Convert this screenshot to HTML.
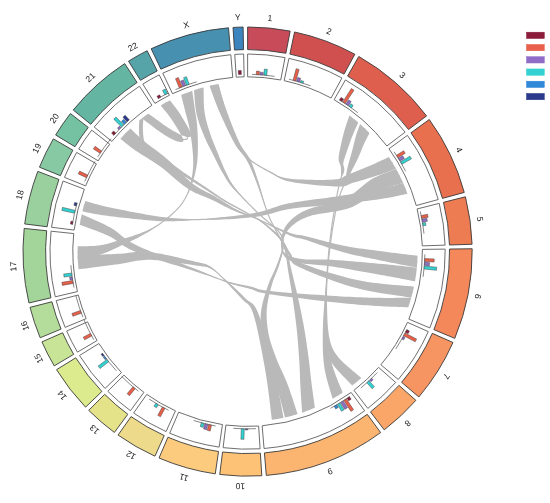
<!DOCTYPE html><html><head><meta charset="utf-8"><style>html,body{margin:0;padding:0;background:#fff;}svg{display:block}</style></head><body>
<svg width="550" height="503" viewBox="0 0 550 503">
<rect width="550" height="503" fill="#fff"/>
<g stroke="#3a3a3a" stroke-width="0.9" stroke-linejoin="round">
<path d="M247.62,27A224.6,224.6 0 0 1 290.17,31.07L285.88,53.26A202,202 0 0 0 247.62,49.6Z" fill="#C84B5A"/>
<path d="M294.58,31.97A224.6,224.6 0 0 1 354.86,54.26L344.06,74.12A202,202 0 0 0 289.86,54.07Z" fill="#D05050"/>
<path d="M358.79,56.46A224.6,224.6 0 0 1 426.56,115.89L408.55,129.54A202,202 0 0 0 347.61,76.09Z" fill="#DE5F4D"/>
<path d="M429.25,119.5A224.6,224.6 0 0 1 464.27,192.43L442.46,198.38A202,202 0 0 0 410.97,132.8Z" fill="#E8704F"/>
<path d="M465.41,196.79A224.6,224.6 0 0 1 472.08,244.25L449.49,244.99A202,202 0 0 0 443.49,202.3Z" fill="#EE7C52"/>
<path d="M472.18,248.76A224.6,224.6 0 0 1 454.76,338.36L433.92,329.63A202,202 0 0 0 449.58,249.04Z" fill="#F4885A"/>
<path d="M452.98,342.51A224.6,224.6 0 0 1 418.83,396.94L401.6,382.32A202,202 0 0 0 432.31,333.36Z" fill="#F69462"/>
<path d="M415.88,400.35A224.6,224.6 0 0 1 384.25,429.85L370.5,411.91A202,202 0 0 0 398.95,385.38Z" fill="#F9A668"/>
<path d="M380.65,432.55A224.6,224.6 0 0 1 266.3,475.42L264.42,452.9A202,202 0 0 0 367.26,414.35Z" fill="#FCB570"/>
<path d="M261.8,475.75A224.6,224.6 0 0 1 219.74,474.47L222.55,452.04A202,202 0 0 0 260.37,453.2Z" fill="#FDC275"/>
<path d="M215.27,473.86A224.6,224.6 0 0 1 159.03,458L167.94,437.23A202,202 0 0 0 218.53,451.5Z" fill="#FCCB7E"/>
<path d="M154.91,456.18A224.6,224.6 0 0 1 118.05,435.07L131.09,416.61A202,202 0 0 0 164.23,435.59Z" fill="#EDDA8A"/>
<path d="M114.4,432.44A224.6,224.6 0 0 1 88.71,410.35L104.7,394.37A202,202 0 0 0 127.8,414.24Z" fill="#E5E38A"/>
<path d="M85.56,407.13A224.6,224.6 0 0 1 56.56,369.7L75.78,357.82A202,202 0 0 0 101.87,391.48Z" fill="#DDEB8F"/>
<path d="M54.23,365.85A224.6,224.6 0 0 1 41.95,341.9L62.64,332.81A202,202 0 0 0 73.69,354.35Z" fill="#C8E597"/>
<path d="M40.18,337.75A224.6,224.6 0 0 1 30.03,307.36L51.92,301.75A202,202 0 0 0 61.05,329.08Z" fill="#B4DC9A"/>
<path d="M28.96,302.98A224.6,224.6 0 0 1 24.2,228.42L46.68,230.75A202,202 0 0 0 50.96,297.81Z" fill="#A3D49A"/>
<path d="M24.71,223.94A224.6,224.6 0 0 1 37.81,171.39L58.92,179.46A202,202 0 0 0 47.14,226.72Z" fill="#99D09E"/>
<path d="M39.46,167.19A224.6,224.6 0 0 1 53.34,138.88L72.88,150.22A202,202 0 0 0 60.41,175.68Z" fill="#86C9A2"/>
<path d="M55.64,135A224.6,224.6 0 0 1 70.43,113.55L88.26,127.44A202,202 0 0 0 74.95,146.73Z" fill="#75C2A2"/>
<path d="M73.24,110.03A224.6,224.6 0 0 1 124.7,63.61L137.07,82.53A202,202 0 0 0 90.78,124.27Z" fill="#64B5A2"/>
<path d="M128.5,61.18A224.6,224.6 0 0 1 147.12,50.73L157.23,70.94A202,202 0 0 0 140.48,80.34Z" fill="#56A3A8"/>
<path d="M151.17,48.75A224.6,224.6 0 0 1 228.51,27.81L230.43,50.33A202,202 0 0 0 160.88,69.16Z" fill="#4890B0"/>
<path d="M233.01,27.47A224.6,224.6 0 0 1 243.11,27.04L243.56,49.64A202,202 0 0 0 234.48,50.03Z" fill="#3C84BE"/>
</g>
<g stroke="#666" stroke-width="0.95" fill="#fff">
<path d="M247.62,54A197.6,197.6 0 0 1 285.05,57.58L280.73,79.97A174.8,174.8 0 0 0 247.62,76.8Z"/>
<path d="M288.94,58.37A197.6,197.6 0 0 1 341.96,77.99L331.07,98.02A174.8,174.8 0 0 0 284.17,80.67Z"/>
<path d="M345.43,79.92A197.6,197.6 0 0 1 405.05,132.2L386.88,145.98A174.8,174.8 0 0 0 334.14,99.73Z"/>
<path d="M407.41,135.38A197.6,197.6 0 0 1 438.22,199.54L416.22,205.55A174.8,174.8 0 0 0 388.97,148.79Z"/>
<path d="M439.23,203.38A197.6,197.6 0 0 1 445.09,245.13L422.31,245.88A174.8,174.8 0 0 0 417.12,208.94Z"/>
<path d="M445.18,249.1A197.6,197.6 0 0 1 429.86,327.93L408.83,319.13A174.8,174.8 0 0 0 422.39,249.39Z"/>
<path d="M428.29,331.58A197.6,197.6 0 0 1 398.25,379.47L380.87,364.72A174.8,174.8 0 0 0 407.44,322.35Z"/>
<path d="M395.65,382.47A197.6,197.6 0 0 1 367.82,408.42L353.95,390.32A174.8,174.8 0 0 0 378.57,367.37Z"/>
<path d="M364.65,410.8A197.6,197.6 0 0 1 264.05,448.51L262.15,425.79A174.8,174.8 0 0 0 351.15,392.43Z"/>
<path d="M260.09,448.8A197.6,197.6 0 0 1 223.09,447.67L225.92,425.05A174.8,174.8 0 0 0 258.65,426.05Z"/>
<path d="M219.16,447.14A197.6,197.6 0 0 1 169.68,433.19L178.67,412.23A174.8,174.8 0 0 0 222.44,424.58Z"/>
<path d="M166.05,431.59A197.6,197.6 0 0 1 133.63,413.02L146.78,394.39A174.8,174.8 0 0 0 175.46,410.82Z"/>
<path d="M130.41,410.7A197.6,197.6 0 0 1 107.81,391.26L123.94,375.15A174.8,174.8 0 0 0 143.93,392.34Z"/>
<path d="M105.04,388.43A197.6,197.6 0 0 1 79.53,355.51L98.92,343.52A174.8,174.8 0 0 0 121.49,372.64Z"/>
<path d="M77.47,352.11A197.6,197.6 0 0 1 66.67,331.04L87.55,321.87A174.8,174.8 0 0 0 97.1,340.51Z"/>
<path d="M65.11,327.39A197.6,197.6 0 0 1 56.19,300.66L78.27,295A174.8,174.8 0 0 0 86.17,318.65Z"/>
<path d="M55.24,296.81A197.6,197.6 0 0 1 51.06,231.2L73.73,233.56A174.8,174.8 0 0 0 77.44,291.59Z"/>
<path d="M51.5,227.26A197.6,197.6 0 0 1 63.03,181.03L84.33,189.17A174.8,174.8 0 0 0 74.13,230.07Z"/>
<path d="M64.49,177.34A197.6,197.6 0 0 1 76.69,152.43L96.41,163.87A174.8,174.8 0 0 0 85.61,185.91Z"/>
<path d="M78.71,149.02A197.6,197.6 0 0 1 91.73,130.15L109.71,144.16A174.8,174.8 0 0 0 98.2,160.85Z"/>
<path d="M94.2,127.05A197.6,197.6 0 0 1 139.47,86.21L151.95,105.29A174.8,174.8 0 0 0 111.9,141.42Z"/>
<path d="M142.81,84.07A197.6,197.6 0 0 1 159.2,74.88L169.4,95.27A174.8,174.8 0 0 0 154.91,103.4Z"/>
<path d="M162.76,73.14A197.6,197.6 0 0 1 230.81,54.71L232.75,77.43A174.8,174.8 0 0 0 172.55,93.73Z"/>
<path d="M234.76,54.42A197.6,197.6 0 0 1 243.65,54.04L244.11,76.83A174.8,174.8 0 0 0 236.24,77.17Z"/>
</g>
<g font-family="Liberation Sans, Arial, sans-serif" font-size="8.6" fill="#1a1a1a" text-anchor="middle">
<text transform="translate(269.98,17.67) rotate(5.47)" dy="3.2">1</text>
<text transform="translate(329.13,31.2) rotate(20.3)" dy="3.2">2</text>
<text transform="translate(402.55,74.92) rotate(41.25)" dy="3.2">3</text>
<text transform="translate(459.44,149.87) rotate(64.35)" dy="3.2">4</text>
<text transform="translate(480.31,218.89) rotate(82)" dy="3.2">5</text>
<text transform="translate(478.28,296.44) rotate(101)" dy="3.2">6</text>
<text transform="translate(446.67,376.48) rotate(122.1)" dy="3.2">7</text>
<text transform="translate(407.87,423.47) rotate(137)" dy="3.2">8</text>
<text transform="translate(330.09,471.65) rotate(159.45)" dy="3.2">9</text>
<text transform="translate(240.42,486.49) rotate(181.75)" dy="3.2">10</text>
<text transform="translate(183.81,477.78) rotate(195.75)" dy="3.2">11</text>
<text transform="translate(130.81,455.52) rotate(209.8)" dy="3.2">12</text>
<text transform="translate(94.36,429.76) rotate(220.7)" dy="3.2">13</text>
<text transform="translate(61.85,395.55) rotate(232.22)" dy="3.2">14</text>
<text transform="translate(38.47,358.8) rotate(242.86)" dy="3.2">15</text>
<text transform="translate(24.7,326.03) rotate(251.53)" dy="3.2">16</text>
<text transform="translate(13.08,266.56) rotate(266.35)" dy="3.2">17</text>
<text transform="translate(19.58,194.75) rotate(284)" dy="3.2">18</text>
<text transform="translate(36.56,148.21) rotate(296.1)" dy="3.2">19</text>
<text transform="translate(54.16,118.16) rotate(304.6)" dy="3.2">20</text>
<text transform="translate(90.2,77.1) rotate(317.95)" dy="3.2">21</text>
<text transform="translate(132.6,46.66) rotate(330.7)" dy="3.2">22</text>
<text transform="translate(186.18,24.77) rotate(344.85)" dy="3.2">X</text>
<text transform="translate(237.62,16.81) rotate(357.56)" dy="3.2">Y</text>
</g>
<g fill="#b9b9b9" stroke="none">
<path d="M82.44,211.34 83.18,211.49 84.06,211.68 85.05,211.91 86.16,212.16 87.39,212.43 88.73,212.72 90.17,213.02 91.71,213.34 93.35,213.65 95.08,213.97 96.9,214.28 98.81,214.58 100.82,214.88 102.96,215.19 105.22,215.51 107.58,215.83 110.04,216.16 112.59,216.49 115.21,216.82 117.9,217.14 120.65,217.46 123.44,217.78 126.27,218.08 129.12,218.37 132.01,218.66 134.96,218.97 137.97,219.3 141.04,219.62 144.16,219.94 147.34,220.25 150.57,220.53 153.85,220.78 157.19,221 160.58,221.17 164.02,221.29 167.52,221.35 171.09,221.35 174.76,221.27 178.49,221.1 182.29,220.88 186.15,220.62 190.04,220.33 193.94,220.01 197.86,219.66 201.76,219.28 205.63,218.88 209.45,218.46 213.21,218.03 216.93,217.69 220.67,217.36 224.43,217 228.19,216.62 231.94,216.21 235.66,215.77 239.33,215.31 242.95,214.82 246.49,214.3 249.94,213.76 253.28,213.19 256.5,212.59 259.52,211.95 262.33,211.25 264.96,210.5 267.46,209.71 269.89,208.9 272.3,208.07 274.72,207.23 277.22,206.4 279.83,205.58 282.61,204.79 285.61,204.04 288.87,203.33 292.43,202.65 296.25,202.01 300.28,201.38 304.48,200.78 308.79,200.19 313.18,199.61 317.59,199.03 321.99,198.47 326.31,197.9 330.51,197.33 334.56,196.76 338.39,196.18 342.09,195.59 345.73,195.01 349.33,194.42 352.87,193.83 356.33,193.25 359.72,192.66 363.03,192.08 366.24,191.51 369.35,190.94 372.35,190.37 375.24,189.81 378,189.26 380.69,188.69 383.32,188.11 385.9,187.5 388.39,186.89 390.78,186.29 393.05,185.7 395.18,185.13 397.16,184.6 398.97,184.11 400.58,183.67 401.97,183.3 403.14,183 403.91,184.77 404.66,186.54 405.39,188.33 406.1,190.12 406.78,191.93 407.45,193.74 406.26,193.98 404.83,194.29 403.19,194.65 401.35,195.05 399.34,195.49 397.16,195.95 394.85,196.44 392.41,196.93 389.87,197.42 387.25,197.9 384.56,198.37 381.83,198.81 379.02,199.23 376.08,199.65 373.02,200.08 369.85,200.5 366.57,200.93 363.21,201.35 359.75,201.78 356.22,202.2 352.62,202.62 348.96,203.04 345.24,203.46 341.48,203.87 337.57,204.28 333.45,204.66 329.17,205.03 324.76,205.4 320.29,205.76 315.8,206.13 311.33,206.5 306.93,206.89 302.65,207.3 298.55,207.74 294.66,208.21 291.03,208.71 287.71,209.27 284.65,209.88 281.82,210.54 279.15,211.23 276.61,211.94 274.14,212.66 271.69,213.38 269.21,214.07 266.66,214.74 263.98,215.36 261.12,215.93 258.04,216.43 254.76,216.88 251.35,217.29 247.84,217.67 244.23,218.02 240.55,218.34 236.81,218.64 233.02,218.9 229.2,219.13 225.37,219.34 221.54,219.53 217.73,219.68 213.96,219.78 210.21,219.75 206.4,219.69 202.55,219.61 198.66,219.5 194.76,219.36 190.87,219.19 186.99,219 183.16,218.77 179.37,218.51 175.65,218.22 172.04,217.95 168.54,217.67 165.12,217.34 161.75,216.95 158.44,216.51 155.17,216.03 151.96,215.52 148.8,214.98 145.69,214.42 142.64,213.86 139.64,213.29 136.7,212.73 133.81,212.18 130.99,211.66 128.19,211.15 125.43,210.62 122.7,210.09 120.01,209.55 117.38,209.01 114.81,208.47 112.32,207.94 109.92,207.41 107.61,206.9 105.4,206.4 103.31,205.92 101.34,205.46 99.48,205.01 97.7,204.56 96,204.1 94.4,203.65 92.89,203.22 91.48,202.8 90.18,202.4 88.98,202.03 87.89,201.69 86.92,201.38 86.06,201.12 85.33,200.9 84.81,202.63 84.29,204.36 83.8,206.1 83.33,207.84 82.87,209.59Z"/>
<path d="M209.65,85.89 210.11,87.09 210.66,88.56 211.29,90.27 212,92.19 212.78,94.28 213.62,96.52 214.51,98.87 215.46,101.3 216.44,103.78 217.46,106.27 218.51,108.74 219.58,111.17 220.71,113.66 221.92,116.32 223.21,119.11 224.56,121.99 225.95,124.92 227.37,127.85 228.79,130.75 230.21,133.58 231.61,136.29 232.96,138.84 234.27,141.2 235.5,143.32 236.64,145.21 237.69,146.91 238.68,148.45 239.62,149.85 240.53,151.13 241.45,152.33 242.39,153.45 243.38,154.54 244.43,155.6 245.57,156.67 246.82,157.77 248.2,158.93 249.73,160.12 251.38,161.3 253.14,162.47 254.96,163.59 256.82,164.65 258.72,165.68 260.59,166.69 262.43,167.68 264.26,168.64 266.07,169.56 267.84,170.45 269.54,171.28 271.12,172.08 272.55,172.86 273.88,173.6 275.16,174.32 276.43,175 277.74,175.64 279.14,176.25 280.66,176.81 282.36,177.33 284.28,177.81 286.47,178.23 288.98,178.61 291.92,178.93 295.34,179.2 299.12,179.43 303.18,179.61 307.41,179.75 311.72,179.85 316.01,179.9 320.19,179.91 324.15,179.88 327.81,179.81 331.05,179.7 333.79,179.55 336.01,179.37 337.81,179.13 339.25,178.85 340.41,178.53 341.36,178.17 342.16,177.77 342.89,177.33 343.62,176.85 344.41,176.34 345.34,175.8 346.48,175.23 347.9,174.64 349.57,173.99 351.39,173.27 353.33,172.5 355.37,171.68 357.48,170.82 359.63,169.95 361.78,169.06 363.92,168.18 366.01,167.31 368.03,166.46 369.95,165.65 371.73,164.89 373.45,164.15 375.17,163.38 376.89,162.61 378.57,161.84 380.21,161.08 381.79,160.35 383.28,159.65 384.67,159 385.94,158.4 387.08,157.86 388.06,157.4 388.87,157.03 390.15,158.97 391.4,160.93 392.63,162.9 393.83,164.89 395,166.9 396.14,168.92 395.29,169.22 394.26,169.59 393.06,170.03 391.71,170.51 390.25,171.04 388.67,171.6 387.01,172.19 385.28,172.8 383.5,173.42 381.69,174.04 379.87,174.65 378.06,175.24 376.18,175.84 374.16,176.48 372.03,177.15 369.82,177.83 367.57,178.52 365.29,179.22 363.03,179.9 360.81,180.57 358.66,181.21 356.61,181.81 354.69,182.37 352.93,182.87 351.44,183.34 350.23,183.8 349.25,184.26 348.41,184.69 347.64,185.09 346.87,185.46 346.02,185.79 345.02,186.07 343.8,186.29 342.29,186.45 340.4,186.53 338.06,186.53 335.18,186.45 331.77,186.29 327.93,186.05 323.76,185.75 319.37,185.39 314.86,184.98 310.33,184.53 305.88,184.03 301.62,183.51 297.64,182.97 294.05,182.4 290.95,181.83 288.32,181.25 286.01,180.63 283.99,179.99 282.19,179.32 280.58,178.62 279.11,177.88 277.73,177.12 276.38,176.31 275.03,175.48 273.62,174.6 272.1,173.69 270.43,172.74 268.63,171.74 266.76,170.69 264.85,169.59 262.9,168.46 260.95,167.29 259.05,166.08 257.23,164.83 255.47,163.57 253.8,162.34 252.23,161.13 250.75,159.91 249.4,158.69 248.17,157.5 247.07,156.37 246.07,155.27 245.15,154.18 244.3,153.07 243.49,151.91 242.71,150.69 241.93,149.38 241.14,147.95 240.32,146.38 239.45,144.64 238.51,142.72 237.5,140.55 236.44,138.14 235.34,135.53 234.22,132.77 233.09,129.88 231.96,126.93 230.84,123.93 229.74,120.95 228.68,118.01 227.67,115.17 226.72,112.45 225.84,109.91 225.01,107.43 224.2,104.91 223.43,102.37 222.69,99.84 221.98,97.37 221.31,94.97 220.69,92.69 220.11,90.55 219.59,88.6 219.12,86.85 218.72,85.35 218.37,84.13 216.91,84.39 215.45,84.67 214,84.95 212.55,85.25 211.09,85.57Z"/>
<path d="M78.53,269.37 80.49,269.11 82.97,268.79 85.89,268.41 89.17,267.98 92.74,267.52 96.49,267.03 100.36,266.53 104.25,266.02 108.09,265.51 111.79,265.03 115.27,264.57 118.44,264.15 121.33,263.73 124.06,263.26 126.66,262.77 129.16,262.27 131.61,261.78 134.04,261.3 136.49,260.87 139,260.49 141.59,260.18 144.32,259.96 147.22,259.84 150.33,259.83 153.73,259.96 157.46,260.23 161.44,260.62 165.59,261.09 169.83,261.63 174.08,262.22 178.28,262.84 182.34,263.46 186.19,264.06 189.74,264.62 192.92,265.12 195.66,265.54 197.95,265.86 199.87,266.11 201.52,266.3 202.89,266.45 204.04,266.59 205.02,266.72 205.89,266.88 206.71,267.07 207.51,267.31 208.37,267.63 209.33,268.04 210.45,268.55 211.65,269.15 212.8,269.81 213.93,270.52 215.04,271.29 216.14,272.1 217.26,272.97 218.39,273.9 219.56,274.87 220.76,275.9 222.03,276.98 223.35,278.11 224.76,279.3 226.28,280.57 227.91,281.96 229.63,283.44 231.42,284.99 233.25,286.6 235.1,288.23 236.95,289.97 238.78,291.71 240.55,293.42 242.24,295.08 243.83,296.66 245.29,298.15 246.62,299.41 247.84,300.41 248.98,301.22 250.04,301.91 251.04,302.58 252.01,303.29 252.97,304.13 253.92,305.17 254.89,306.51 255.9,308.21 256.97,310.35 258.12,313.02 259.34,316.28 260.64,320.08 261.98,324.33 263.37,328.96 264.77,333.87 266.18,338.98 267.58,344.21 268.95,349.48 270.28,354.69 271.55,359.76 272.75,364.61 273.85,369.16 274.9,373.63 275.93,378.26 276.93,382.98 277.89,387.72 278.8,392.4 279.67,396.97 280.49,401.34 281.24,405.44 281.93,409.2 282.54,412.56 283.08,415.44 283.53,417.76 281.59,418.17 279.65,418.55 277.7,418.91 275.76,419.25 273.8,419.57 271.85,419.86 271.55,417.51 271.2,414.6 270.8,411.21 270.36,407.4 269.87,403.25 269.34,398.83 268.76,394.21 268.15,389.47 267.49,384.67 266.8,379.9 266.08,375.21 265.32,370.69 264.51,366.09 263.63,361.19 262.68,356.05 261.7,350.78 260.67,345.46 259.61,340.16 258.54,334.99 257.46,330.02 256.38,325.34 255.32,321.03 254.28,317.19 253.27,313.89 252.31,311.19 251.39,309.02 250.51,307.3 249.64,305.94 248.77,304.88 247.9,304.03 247,303.3 246.07,302.63 245.09,301.92 244.04,301.09 242.92,300.08 241.7,298.79 240.37,297.28 238.92,295.68 237.37,293.99 235.76,292.26 234.09,290.49 232.39,288.69 230.69,286.82 229,284.99 227.35,283.21 225.76,281.52 224.26,279.93 222.86,278.47 221.56,277.11 220.33,275.81 219.17,274.58 218.05,273.4 216.98,272.28 215.93,271.22 214.9,270.21 213.87,269.26 212.84,268.37 211.79,267.54 210.71,266.76 209.6,266.03 208.55,265.4 207.65,264.9 206.84,264.5 206.08,264.17 205.32,263.9 204.5,263.67 203.57,263.44 202.49,263.2 201.19,262.92 199.64,262.58 197.71,262.17 195.41,261.66 192.66,261.01 189.46,260.24 185.88,259.38 182.02,258.46 177.94,257.5 173.72,256.53 169.44,255.58 165.17,254.69 161,253.87 157,253.15 153.25,252.58 149.83,252.16 146.71,251.91 143.8,251.79 141.05,251.79 138.44,251.89 135.92,252.06 133.46,252.29 131.01,252.56 128.55,252.85 126.03,253.14 123.42,253.41 120.68,253.65 117.77,253.84 114.58,253.99 111.09,254.16 107.37,254.34 103.51,254.53 99.59,254.71 95.71,254.9 91.93,255.08 88.35,255.25 85.05,255.4 82.11,255.54 79.62,255.66 77.65,255.75 77.72,258.03 77.82,260.3 77.95,262.57 78.12,264.84 78.31,267.11Z"/>
<path d="M79.74,224.71 81.2,225.27 83.08,225.96 85.31,226.78 87.81,227.69 90.52,228.68 93.36,229.73 96.27,230.83 99.17,231.94 101.99,233.06 104.65,234.16 107.1,235.22 109.25,236.23 111.15,237.21 112.87,238.2 114.45,239.21 115.92,240.22 117.32,241.23 118.67,242.24 119.99,243.25 121.33,244.24 122.71,245.22 124.15,246.18 125.7,247.11 127.38,248.02 129.11,248.88 130.8,249.69 132.49,250.46 134.19,251.21 135.93,251.94 137.74,252.67 139.64,253.41 141.65,254.16 143.8,254.94 146.11,255.76 148.61,256.64 151.33,257.58 154.33,258.59 157.63,259.66 161.17,260.8 164.91,261.97 168.79,263.17 172.75,264.39 176.74,265.62 180.72,266.84 184.61,268.03 188.37,269.2 191.95,270.32 195.29,271.38 198.46,272.41 201.54,273.43 204.56,274.43 207.51,275.35 210.39,276.27 213.19,277.15 215.91,278.01 218.56,278.83 221.12,279.61 223.62,280.35 226.03,281.03 228.37,281.65 230.6,282.23 232.7,282.78 234.69,283.27 236.59,283.71 238.42,284.1 240.18,284.46 241.9,284.79 243.59,285.11 245.26,285.43 246.93,285.76 248.62,286.11 250.33,286.48 251.89,286.87 253.16,287.25 254.22,287.62 255.18,287.99 256.12,288.35 257.14,288.72 258.33,289.08 259.79,289.45 261.59,289.83 263.85,290.21 266.64,290.61 270.07,291.01 274.29,291.44 279.28,291.9 284.91,292.39 291.05,292.88 297.53,293.39 304.23,293.89 311,294.38 317.7,294.85 324.19,295.29 330.32,295.7 335.96,296.07 340.96,296.38 345.42,296.64 349.56,296.87 353.42,297.06 357.03,297.22 360.43,297.36 363.65,297.47 366.73,297.56 369.7,297.63 372.6,297.7 375.47,297.75 378.33,297.8 381.23,297.85 384.19,297.89 387.18,297.91 390.16,297.91 393.11,297.89 395.99,297.86 398.76,297.82 401.39,297.78 403.85,297.73 406.1,297.69 408.11,297.65 409.84,297.62 411.26,297.6 410.79,299.22 410.32,300.83 409.82,302.44 409.31,304.04 408.78,305.64 408.24,307.23 406.84,307.18 405.14,307.13 403.16,307.08 400.94,307.02 398.52,306.95 395.92,306.87 393.19,306.79 390.36,306.69 387.45,306.57 384.51,306.43 381.56,306.28 378.65,306.11 375.79,305.93 372.96,305.74 370.14,305.56 367.28,305.36 364.35,305.15 361.31,304.92 358.14,304.66 354.79,304.37 351.23,304.04 347.43,303.68 343.34,303.26 338.95,302.79 334.02,302.25 328.47,301.63 322.42,300.94 316.03,300.19 309.42,299.42 302.75,298.62 296.15,297.81 289.75,297.01 283.71,296.23 278.16,295.49 273.23,294.8 269.08,294.17 265.7,293.61 262.95,293.09 260.73,292.6 258.94,292.14 257.51,291.7 256.34,291.27 255.34,290.86 254.41,290.45 253.47,290.03 252.42,289.61 251.17,289.17 249.63,288.71 247.94,288.25 246.28,287.83 244.63,287.42 242.99,287.03 241.32,286.62 239.63,286.21 237.89,285.77 236.1,285.29 234.22,284.77 232.26,284.18 230.19,283.53 228.01,282.74 225.74,281.85 223.39,280.89 220.97,279.87 218.48,278.79 215.91,277.66 213.26,276.49 210.54,275.27 207.75,274.03 204.88,272.75 201.91,271.51 198.87,270.27 195.74,269.03 192.45,267.74 188.92,266.38 185.2,264.96 181.36,263.5 177.44,262.01 173.5,260.52 169.59,259.03 165.76,257.56 162.07,256.13 158.57,254.76 155.31,253.46 152.36,252.24 149.68,251.12 147.21,250.07 144.92,249.09 142.8,248.16 140.82,247.26 138.95,246.4 137.16,245.54 135.45,244.69 133.77,243.82 132.11,242.93 130.43,241.99 128.73,241 127.08,239.97 125.55,238.92 124.13,237.85 122.77,236.76 121.45,235.66 120.15,234.55 118.82,233.43 117.45,232.3 116,231.17 114.44,230.04 112.74,228.92 110.88,227.8 108.75,226.64 106.34,225.4 103.71,224.11 100.93,222.8 98.07,221.48 95.2,220.19 92.4,218.94 89.73,217.76 87.26,216.67 85.06,215.71 83.2,214.88 81.76,214.23 81.38,215.96 81.01,217.71 80.67,219.45 80.34,221.2 80.03,222.96Z"/>
<path d="M349.43,115.48 349.2,116.17 348.89,117.04 348.54,118.05 348.14,119.19 347.7,120.43 347.25,121.75 346.78,123.12 346.31,124.53 345.84,125.94 345.4,127.33 344.98,128.69 344.59,129.98 344.24,131.24 343.88,132.53 343.53,133.83 343.19,135.15 342.85,136.47 342.53,137.8 342.21,139.12 341.9,140.44 341.61,141.74 341.32,143.03 341.05,144.29 340.79,145.52 340.54,146.73 340.28,147.93 340.02,149.12 339.77,150.31 339.53,151.47 339.3,152.63 339.1,153.76 338.92,154.88 338.78,155.98 338.67,157.06 338.61,158.11 338.59,159.13 338.64,160.08 338.78,160.91 338.99,161.65 339.25,162.35 339.54,163.03 339.84,163.71 340.14,164.44 340.42,165.25 340.67,166.16 340.86,167.21 340.99,168.43 341.04,169.87 341.05,171.48 341.05,173.21 341.23,175.19 341.24,177.19 340.78,178.94 340.28,180.81 339.75,182.8 339.2,184.93 338.64,187.2 338.08,189.62 337.53,192.22 337,195 336.46,198 335.89,201.23 335.29,204.66 334.67,208.26 334.04,212.01 333.41,215.88 332.78,219.83 332.17,223.85 331.57,227.91 331.01,231.97 330.48,236.01 330,240 329.55,244.02 329.12,248.16 328.72,252.38 328.33,256.67 327.97,260.99 327.62,265.31 327.3,269.62 327,273.89 326.72,278.09 326.59,282.1 326.52,285.97 326.46,289.7 326.42,293.3 326.38,296.8 326.36,300.22 326.36,303.57 326.37,306.85 326.41,310.07 326.46,313.23 326.54,316.36 326.65,319.45 326.78,322.52 326.95,325.57 327.14,328.61 327.36,331.63 327.59,334.61 327.84,337.56 328.11,340.47 328.41,343.35 328.74,346.19 329.1,349 329.5,351.79 329.95,354.54 330.45,357.27 331.01,359.97 331.62,362.65 332.35,365.38 333.21,368.22 334.18,371.11 335.22,374.03 336.31,376.91 337.42,379.72 338.51,382.41 339.56,384.94 340.52,387.26 341.39,389.33 342.11,391.11 342.66,392.54 341.02,393.63 339.36,394.71 337.69,395.77 336,396.81 334.31,397.83 332.6,398.82 332.18,397.31 331.62,395.44 330.95,393.25 330.2,390.79 329.39,388.11 328.54,385.27 327.7,382.29 326.87,379.25 326.09,376.17 325.39,373.1 324.78,370.11 324.3,367.22 323.92,364.4 323.61,361.55 323.35,358.67 323.14,355.76 322.98,352.83 322.86,349.86 322.79,346.86 322.74,343.83 322.73,340.75 322.73,337.65 322.76,334.5 322.81,331.32 322.88,328.11 322.98,324.89 323.11,321.66 323.28,318.4 323.47,315.1 323.69,311.76 323.94,308.37 324.21,304.91 324.51,301.38 324.83,297.78 325.17,294.08 325.53,290.28 325.91,286.35 326.32,282.27 326.72,278.09 327,273.89 327.3,269.62 327.62,265.31 327.97,260.99 328.33,256.67 328.72,252.38 329.12,248.16 329.55,244.02 330,240 330.48,236.01 331.01,231.97 331.57,227.91 332.17,223.85 332.78,219.83 333.41,215.88 334.04,212.01 334.67,208.26 335.29,204.66 335.89,201.23 336.46,198 337,195 337.53,192.22 338.08,189.62 338.64,187.2 339.2,184.93 339.75,182.8 340.28,180.81 340.78,178.94 341.24,177.19 342.07,175.87 342.94,174.72 343.5,173.45 343.92,172.17 344.18,170.99 344.3,169.97 344.31,169.07 344.23,168.3 344.09,167.61 343.92,166.98 343.73,166.38 343.55,165.79 343.4,165.18 343.3,164.53 343.28,163.79 343.35,162.95 343.5,162.03 343.71,161.09 343.95,160.12 344.23,159.13 344.54,158.12 344.87,157.09 345.23,156.04 345.6,154.98 345.98,153.9 346.36,152.8 346.75,151.7 347.12,150.59 347.5,149.45 347.9,148.29 348.3,147.11 348.72,145.9 349.14,144.68 349.58,143.45 350.02,142.22 350.47,140.98 350.92,139.75 351.38,138.54 351.84,137.33 352.3,136.15 352.79,134.94 353.32,133.68 353.87,132.37 354.44,131.05 355.02,129.73 355.59,128.44 356.15,127.2 356.67,126.03 357.15,124.96 357.58,124 357.94,123.18 358.23,122.52 356.8,121.31 355.35,120.11 353.89,118.93 352.42,117.76 350.93,116.61Z"/>
<path d="M360.02,124.08 359.82,124.65 359.57,125.35 359.27,126.17 358.94,127.08 358.57,128.08 358.19,129.15 357.79,130.27 357.39,131.43 356.99,132.62 356.59,133.82 356.21,135.02 355.85,136.2 355.51,137.4 355.17,138.65 354.83,139.95 354.49,141.29 354.16,142.65 353.82,144.03 353.49,145.41 353.15,146.79 352.82,148.16 352.49,149.51 352.15,150.82 351.82,152.09 351.48,153.32 351.14,154.53 350.8,155.73 350.45,156.91 350.11,158.08 349.77,159.24 349.43,160.39 349.1,161.53 348.78,162.66 348.46,163.8 348.16,164.93 347.88,166.06 347.62,167.14 347.39,168.13 347.19,169.07 347.01,169.97 346.83,170.87 346.66,171.79 346.48,172.76 346.29,173.81 346.08,174.97 345.86,176.27 345.62,177.74 345.39,179.44 345.27,181.41 344.78,183.12 344.08,184.75 343.33,186.44 342.55,188.23 341.75,190.12 340.93,192.15 340.11,194.33 339.3,196.69 338.5,199.24 337.73,202 337,205 336.28,208.29 335.55,211.89 334.81,215.74 334.07,219.81 333.34,224.06 332.62,228.44 331.93,232.9 331.26,237.41 330.62,241.91 330.03,246.38 329.49,250.75 329,255 328.56,259.21 328.16,263.51 327.8,267.85 327.48,272.22 327.19,276.59 327,280.88 326.94,285.03 326.92,289.1 326.91,293.07 326.93,296.91 326.96,300.6 327.01,304.12 327.07,307.49 327.14,310.76 327.22,313.93 327.32,317 327.44,319.96 327.59,322.83 327.77,325.6 328,328.26 328.27,330.83 328.59,333.29 328.96,335.65 329.4,337.92 329.86,340.03 330.33,341.95 330.82,343.72 331.34,345.36 331.91,346.89 332.53,348.36 333.23,349.78 334.01,351.18 334.89,352.59 335.88,354.04 337,355.56 338.26,357.17 339.75,358.91 341.55,360.79 343.57,362.74 345.75,364.75 348.04,366.77 350.35,368.76 352.64,370.68 354.83,372.5 356.87,374.17 358.67,375.66 360.19,376.93 361.35,377.93 359.87,379.25 358.38,380.55 356.87,381.83 355.35,383.09 353.81,384.33 352.26,385.56 351.22,384.45 349.86,383.05 348.24,381.41 346.42,379.56 344.45,377.55 342.4,375.43 340.33,373.24 338.29,371.02 336.34,368.81 334.54,366.66 332.96,364.62 331.65,362.72 330.56,360.97 329.59,359.32 328.74,357.75 327.99,356.23 327.34,354.72 326.77,353.19 326.28,351.62 325.85,349.97 325.47,348.21 325.13,346.32 324.82,344.26 324.53,342 324.29,339.58 324.11,337.05 324,334.41 323.94,331.67 323.94,328.82 323.98,325.86 324.07,322.79 324.19,319.62 324.35,316.33 324.53,312.94 324.74,309.45 324.96,305.84 325.2,302.08 325.47,298.13 325.78,294.02 326.11,289.78 326.48,285.42 326.87,280.99 327.19,276.59 327.48,272.22 327.8,267.85 328.16,263.51 328.56,259.21 329,255 329.49,250.75 330.03,246.38 330.62,241.91 331.26,237.41 331.93,232.9 332.62,228.44 333.34,224.06 334.07,219.81 334.81,215.74 335.55,211.89 336.28,208.29 337,205 337.73,202 338.5,199.24 339.3,196.69 340.11,194.33 340.93,192.15 341.75,190.12 342.55,188.23 343.33,186.44 344.08,184.75 344.78,183.12 345.57,181.7 346.59,180.59 347.36,179.39 347.99,178.29 348.53,177.3 348.99,176.39 349.41,175.55 349.78,174.77 350.14,174.02 350.48,173.28 350.83,172.53 351.2,171.76 351.6,170.93 352.05,170.02 352.52,169.07 353,168.12 353.5,167.16 354,166.19 354.5,165.22 355.01,164.24 355.52,163.24 356.04,162.23 356.55,161.21 357.06,160.17 357.56,159.11 358.06,158.03 358.56,156.92 359.06,155.77 359.56,154.58 360.07,153.38 360.57,152.15 361.07,150.93 361.56,149.7 362.06,148.49 362.55,147.3 363.04,146.14 363.52,145.02 364,143.95 364.49,142.9 365,141.83 365.52,140.75 366.06,139.69 366.59,138.65 367.11,137.64 367.6,136.68 368.07,135.78 368.5,134.96 368.89,134.23 369.21,133.6 369.47,133.08 367.95,131.53 366.4,130 364.84,128.49 363.25,127 361.65,125.53Z"/>
<path d="M120.38,138.84 121.09,139.4 121.93,140.08 122.9,140.87 123.99,141.75 125.19,142.71 126.48,143.75 127.86,144.84 129.31,145.97 130.83,147.13 132.41,148.3 134.03,149.49 135.69,150.66 137.43,151.83 139.26,153.02 141.19,154.23 143.2,155.47 145.28,156.74 147.4,158.05 149.57,159.39 151.77,160.76 153.98,162.18 156.2,163.64 158.4,165.14 160.58,166.7 162.77,168.35 164.99,170.13 167.25,172 169.53,173.95 171.83,175.93 174.13,177.93 176.43,179.91 178.73,181.84 181,183.71 183.24,185.47 185.46,187.1 187.62,188.57 189.75,189.89 191.86,191.07 193.95,192.15 196.01,193.14 198.06,194.05 200.1,194.91 202.11,195.73 204.12,196.53 206.11,197.33 208.09,198.15 210.06,199 212.02,199.91 213.97,200.85 215.9,201.82 217.81,202.79 219.71,203.77 221.59,204.74 223.47,205.71 225.33,206.67 227.2,207.61 229.06,208.53 230.93,209.42 232.8,210.28 234.67,211.09 236.52,211.85 238.3,212.53 240.05,213.16 241.77,213.75 243.49,214.32 245.23,214.88 247.01,215.45 248.85,216.05 250.76,216.69 252.78,217.39 254.91,218.16 257.18,219.02 259.66,219.93 262.33,221 265.12,222.22 268.05,223.51 271.05,224.84 274.07,226.19 277.08,227.52 280.01,228.81 282.82,230.02 285.47,231.13 287.89,232.1 290.05,232.91 291.88,233.54 293.38,234 294.62,234.33 295.67,234.55 296.6,234.7 297.48,234.8 298.38,234.89 299.36,234.99 300.51,235.14 301.88,235.36 303.55,235.68 305.58,236.14 307.97,236.73 310.63,237.42 313.52,238.18 316.62,239.01 319.87,239.89 323.24,240.79 326.68,241.69 330.17,242.59 333.66,243.46 337.11,244.29 340.48,245.05 343.74,245.73 346.93,246.34 350.14,246.91 353.36,247.44 356.58,247.94 359.81,248.42 363.03,248.86 366.24,249.3 369.44,249.71 372.62,250.12 375.77,250.53 378.9,250.94 381.99,251.35 385.17,251.77 388.49,252.2 391.91,252.64 395.36,253.07 398.8,253.49 402.16,253.9 405.39,254.29 408.43,254.66 411.22,254.99 413.71,255.29 415.84,255.54 417.55,255.75 417.49,257.73 417.41,259.71 417.3,261.68 417.17,263.66 417.02,265.63 416.85,267.6 415.14,267.27 413.03,266.86 410.55,266.38 407.77,265.85 404.74,265.26 401.53,264.64 398.18,263.99 394.75,263.32 391.31,262.64 387.91,261.96 384.6,261.29 381.44,260.64 378.36,260.01 375.25,259.37 372.11,258.74 368.94,258.1 365.76,257.45 362.56,256.79 359.35,256.11 356.14,255.41 352.93,254.67 349.72,253.91 346.53,253.11 343.35,252.26 340.11,251.34 336.75,250.34 333.32,249.26 329.84,248.13 326.37,246.97 322.94,245.81 319.58,244.66 316.35,243.55 313.27,242.49 310.38,241.5 307.73,240.62 305.36,239.86 303.33,239.25 301.68,238.8 300.31,238.48 299.17,238.26 298.19,238.08 297.29,237.93 296.42,237.77 295.49,237.55 294.44,237.25 293.21,236.83 291.72,236.25 289.9,235.49 287.75,234.51 285.33,233.35 282.7,232.04 279.9,230.61 276.98,229.09 273.99,227.52 270.98,225.93 268,224.36 265.09,222.84 262.3,221.4 259.73,220.04 257.43,218.78 255.3,217.75 253.31,216.84 251.42,216 249.63,215.24 247.91,214.52 246.24,213.83 244.61,213.15 243,212.47 241.39,211.77 239.76,211.03 238.09,210.22 236.36,209.34 234.61,208.39 232.87,207.41 231.13,206.39 229.39,205.34 227.65,204.27 225.91,203.18 224.17,202.07 222.41,200.96 220.64,199.85 218.86,198.75 217.07,197.65 215.25,196.56 213.42,195.52 211.57,194.53 209.72,193.58 207.86,192.65 205.99,191.71 204.1,190.75 202.21,189.76 200.29,188.7 198.37,187.57 196.42,186.35 194.46,185.01 192.48,183.53 190.48,181.89 188.43,180.09 186.36,178.15 184.27,176.1 182.16,173.97 180.05,171.8 177.93,169.61 175.82,167.43 173.72,165.3 171.64,163.23 169.59,161.28 167.57,159.45 165.56,157.72 163.52,156.05 161.47,154.42 159.41,152.84 157.38,151.3 155.36,149.8 153.39,148.34 151.46,146.91 149.6,145.52 147.81,144.16 146.1,142.83 144.5,141.53 142.96,140.23 141.46,138.92 140,137.62 138.6,136.34 137.26,135.09 135.99,133.89 134.8,132.75 133.7,131.69 132.69,130.72 131.8,129.85 131.02,129.11 130.36,128.49 128.64,130.16 126.94,131.85 125.26,133.56 123.61,135.3 121.98,137.06Z"/>
<path d="M209.65,85.89 210.09,87.09 210.62,88.57 211.23,90.29 211.91,92.21 212.65,94.31 213.46,96.56 214.32,98.91 215.22,101.35 216.17,103.83 217.15,106.33 218.16,108.82 219.2,111.25 220.28,113.75 221.46,116.41 222.71,119.2 224.02,122.07 225.37,124.99 226.74,127.92 228.12,130.82 229.5,133.65 230.85,136.37 232.16,138.95 233.42,141.34 234.61,143.51 235.74,145.44 236.85,147.16 237.93,148.7 238.99,150.1 240.03,151.39 241.05,152.61 242.04,153.79 243.02,154.97 243.98,156.19 244.92,157.47 245.84,158.85 246.75,160.38 247.63,161.98 248.46,163.58 249.26,165.2 250.03,166.84 250.79,168.51 251.53,170.22 252.27,171.99 253.03,173.82 253.79,175.73 254.59,177.73 255.42,179.82 256.29,182.02 257.2,184.38 258.15,186.93 259.12,189.62 260.11,192.44 261.12,195.32 262.15,198.25 263.18,201.17 264.21,204.06 265.24,206.87 266.26,209.57 267.28,212.12 268.2,214.5 269.12,216.73 270.07,218.87 271.03,220.93 272,222.91 272.96,224.81 273.93,226.64 274.95,228.38 275.93,230.06 276.89,231.68 277.8,233.25 278.67,234.77 279.48,236.25 280.23,237.63 280.95,238.88 281.61,240.02 282.25,241.08 282.85,242.09 283.42,243.06 283.96,244.02 284.49,245.01 285,246.04 285.5,247.14 285.99,248.33 286.49,249.64 286.95,251.03 287.38,252.45 287.78,253.89 288.16,255.38 288.52,256.91 288.88,258.49 289.23,260.12 289.59,261.82 289.97,263.59 290.37,265.43 290.8,267.35 291.27,269.36 291.78,271.48 292.32,273.72 292.89,276.06 293.49,278.49 294.09,280.99 294.71,283.54 295.33,286.12 295.95,288.72 296.56,291.32 297.16,293.9 297.74,296.45 298.3,298.94 298.83,301.41 299.36,303.87 299.89,306.34 300.41,308.8 300.92,311.27 301.42,313.74 301.91,316.2 302.39,318.67 302.87,321.13 303.33,323.6 303.78,326.06 304.21,328.53 304.64,331.01 305.06,333.52 305.46,336.04 305.86,338.57 306.24,341.11 306.61,343.63 306.98,346.14 307.33,348.62 307.67,351.07 308,353.47 308.32,355.82 308.63,358.12 308.92,360.34 309.18,362.51 309.43,364.62 309.67,366.69 309.89,368.72 310.11,370.73 310.33,372.73 310.54,374.72 310.76,376.7 310.98,378.7 311.22,380.72 311.47,382.77 311.74,384.92 312.04,387.21 312.35,389.58 312.68,392 313.01,394.42 313.33,396.8 313.65,399.09 313.95,401.25 314.22,403.24 314.47,405.02 314.68,406.53 314.84,407.74 312.75,408.62 310.64,409.48 308.52,410.31 306.39,411.11 304.25,411.88 302.1,412.63 302.02,411.39 301.92,409.83 301.79,408.01 301.66,405.97 301.51,403.75 301.35,401.4 301.19,398.96 301.02,396.47 300.86,393.99 300.71,391.55 300.57,389.21 300.45,387 300.34,384.9 300.24,382.83 300.15,380.77 300.07,378.73 300,376.69 299.92,374.65 299.84,372.58 299.76,370.5 299.66,368.37 299.56,366.2 299.44,363.98 299.3,361.7 299.15,359.34 298.99,356.93 298.83,354.46 298.66,351.95 298.48,349.4 298.29,346.83 298.09,344.24 297.88,341.64 297.66,339.04 297.43,336.45 297.18,333.87 296.93,331.33 296.66,328.79 296.38,326.26 296.09,323.73 295.79,321.2 295.48,318.67 295.16,316.14 294.83,313.61 294.49,311.08 294.14,308.55 293.79,306.01 293.43,303.48 293.06,300.95 292.68,298.39 292.28,295.77 291.87,293.12 291.43,290.45 291,287.78 290.56,285.13 290.12,282.51 289.68,279.95 289.26,277.46 288.85,275.05 288.47,272.75 288.11,270.58 287.78,268.51 287.48,266.54 287.21,264.65 286.95,262.84 286.71,261.09 286.47,259.41 286.23,257.79 285.97,256.22 285.7,254.69 285.4,253.21 285.07,251.75 284.7,250.32 284.31,248.98 283.9,247.75 283.48,246.62 283.05,245.56 282.6,244.55 282.12,243.55 281.63,242.55 281.11,241.52 280.56,240.43 279.98,239.25 279.37,237.96 278.72,236.54 278.02,235.02 277.27,233.45 276.48,231.84 275.65,230.17 274.79,228.44 273.92,226.65 272.96,224.81 272,222.91 271.03,220.93 270.07,218.87 269.12,216.73 268.2,214.5 267.29,212.12 266.45,209.53 265.61,206.79 264.77,203.94 263.93,201.02 263.09,198.05 262.26,195.09 261.44,192.17 260.64,189.32 259.85,186.58 259.07,184 258.32,181.61 257.59,179.38 256.9,177.26 256.24,175.24 255.6,173.31 254.98,171.45 254.35,169.65 253.72,167.91 253.09,166.22 252.43,164.56 251.74,162.92 251.02,161.29 250.26,159.67 249.46,158.12 248.64,156.72 247.79,155.42 246.93,154.18 246.05,152.98 245.15,151.78 244.23,150.54 243.3,149.23 242.35,147.81 241.38,146.25 240.4,144.51 239.4,142.55 238.37,140.35 237.28,137.92 236.15,135.3 234.99,132.54 233.81,129.67 232.63,126.73 231.46,123.76 230.31,120.8 229.2,117.89 228.14,115.06 227.14,112.37 226.22,109.84 225.36,107.37 224.52,104.85 223.7,102.32 222.92,99.8 222.18,97.33 221.47,94.94 220.82,92.67 220.21,90.54 219.66,88.59 219.16,86.85 218.73,85.35 218.37,84.13 216.91,84.39 215.45,84.67 214,84.95 212.55,85.25 211.09,85.57Z"/>
<path d="M396.14,168.92 394.98,169.38 393.53,169.92 391.85,170.53 389.95,171.21 387.89,171.96 385.7,172.78 383.41,173.66 381.07,174.62 378.71,175.64 376.36,176.72 374.07,177.86 371.88,179.07 369.76,180.4 367.67,181.89 365.59,183.5 363.5,185.21 361.4,186.99 359.26,188.8 357.07,190.62 354.82,192.41 352.49,194.14 350.06,195.78 347.52,197.3 344.86,198.67 341.99,199.89 338.88,200.99 335.59,202 332.17,202.93 328.66,203.81 325.13,204.64 321.63,205.46 318.2,206.28 314.92,207.12 311.81,208 308.95,208.93 306.39,209.94 304.08,211.01 301.93,212.09 299.95,213.2 298.11,214.33 296.4,215.48 294.82,216.64 293.35,217.83 291.98,219.04 290.7,220.27 289.5,221.51 288.36,222.78 287.28,224.07 286.28,225.37 285.39,226.69 284.6,228.06 283.91,229.46 283.31,230.89 282.79,232.32 282.35,233.75 281.98,235.17 281.68,236.56 281.45,237.91 281.26,239.21 281.13,240.44 281.04,241.63 281.02,242.81 281.05,243.96 281.15,245.09 281.32,246.2 281.55,247.27 281.86,248.31 282.25,249.3 282.72,250.25 283.28,251.15 283.93,252 284.66,252.8 285.48,253.53 286.35,254.21 287.3,254.83 288.31,255.4 289.42,255.93 290.61,256.42 291.9,256.88 293.29,257.3 294.8,257.69 296.43,258.06 298.19,258.41 300.08,258.74 302.09,259.03 304.18,259.24 306.38,259.4 308.65,259.46 311.02,259.45 313.5,259.43 316.11,259.4 318.85,259.38 321.73,259.39 324.76,259.44 327.94,259.54 331.28,259.71 334.89,259.95 338.83,260.23 343.05,260.55 347.46,260.91 352.01,261.29 356.64,261.69 361.29,262.11 365.87,262.52 370.35,262.93 374.64,263.32 378.69,263.69 382.43,264.04 385.99,264.37 389.53,264.72 393.02,265.07 396.42,265.41 399.7,265.76 402.83,266.09 405.79,266.41 408.54,266.7 411.05,266.98 413.29,267.22 415.24,267.43 416.85,267.6 416.61,269.91 416.34,272.22 416.05,274.52 415.72,276.83 415.36,279.12 414.97,281.41 413.37,281.11 411.46,280.73 409.24,280.3 406.76,279.81 404.04,279.28 401.12,278.71 398.02,278.11 394.77,277.49 391.41,276.86 387.97,276.21 384.47,275.57 380.95,274.93 377.25,274.27 373.25,273.55 369,272.79 364.58,272.01 360.05,271.21 355.46,270.4 350.88,269.61 346.38,268.84 342.02,268.11 337.85,267.43 333.96,266.81 330.39,266.27 327.08,265.82 323.94,265.45 320.95,265.15 318.1,264.9 315.39,264.69 312.81,264.49 310.35,264.31 308.02,264.12 305.81,263.94 303.72,263.78 301.73,263.55 299.83,263.25 298.03,262.91 296.36,262.55 294.81,262.17 293.38,261.77 292.06,261.34 290.84,260.88 289.71,260.39 288.67,259.85 287.71,259.27 286.82,258.64 286,257.96 285.24,257.22 284.56,256.42 283.96,255.56 283.46,254.65 283.04,253.7 282.71,252.69 282.45,251.65 282.27,250.57 282.16,249.46 282.12,248.33 282.14,247.16 282.23,245.98 282.37,244.79 282.57,243.55 282.82,242.24 283.13,240.88 283.5,239.49 283.95,238.06 284.46,236.62 285.06,235.17 285.74,233.74 286.51,232.32 287.38,230.95 288.35,229.62 289.42,228.38 290.57,227.22 291.77,226.09 293.04,224.97 294.39,223.88 295.83,222.82 297.37,221.78 299.03,220.76 300.82,219.78 302.74,218.82 304.82,217.89 307.06,217 309.47,216.13 312.14,215.34 315.12,214.64 318.35,214.02 321.77,213.45 325.33,212.91 328.98,212.38 332.65,211.83 336.3,211.25 339.87,210.59 343.3,209.86 346.53,209.02 349.52,208.04 352.3,206.91 354.96,205.62 357.5,204.21 359.94,202.71 362.31,201.14 364.6,199.55 366.85,197.96 369.06,196.39 371.25,194.89 373.44,193.48 375.63,192.2 377.84,191.07 380.14,190.05 382.53,189.11 384.97,188.23 387.44,187.42 389.88,186.66 392.26,185.97 394.55,185.33 396.7,184.76 398.67,184.24 400.43,183.77 401.93,183.36 403.14,183 402.07,180.61 400.95,178.23 399.8,175.88 398.62,173.54 397.4,171.22Z"/>
<path d="M193.94,90.29 194.05,91.44 194.17,92.89 194.3,94.59 194.45,96.5 194.61,98.58 194.8,100.77 195.01,103.04 195.25,105.34 195.52,107.63 195.83,109.85 196.17,111.97 196.56,113.94 197,115.82 197.48,117.67 198.01,119.51 198.57,121.33 199.16,123.13 199.78,124.93 200.42,126.71 201.09,128.48 201.78,130.24 202.47,131.99 203.18,133.74 203.89,135.48 204.63,137.23 205.4,138.97 206.2,140.72 207.02,142.45 207.86,144.18 208.71,145.9 209.57,147.6 210.43,149.28 211.27,150.94 212.11,152.57 212.92,154.16 213.71,155.73 214.46,157.25 215.2,158.73 215.91,160.19 216.61,161.61 217.3,163.01 217.99,164.4 218.69,165.76 219.39,167.12 220.11,168.46 220.84,169.81 221.6,171.16 222.39,172.51 223.17,173.83 223.9,175.1 224.6,176.33 225.29,177.54 226,178.74 226.75,179.95 227.54,181.18 228.42,182.46 229.39,183.79 230.47,185.2 231.7,186.69 233.08,188.29 234.64,190.02 236.38,191.87 238.28,193.83 240.29,195.86 242.4,197.95 244.58,200.08 246.8,202.22 249.04,204.35 251.27,206.44 253.35,208.51 255.37,210.51 257.3,212.4 259.23,214.22 261.23,216.01 263.27,217.77 265.34,219.5 267.4,221.19 269.41,222.85 271.36,224.47 273.21,226.06 274.97,227.6 276.62,229.08 278.08,230.53 279.32,231.94 280.35,233.27 281.21,234.51 281.9,235.67 282.46,236.78 282.88,237.85 283.2,238.9 283.42,239.95 283.56,241.02 283.64,242.12 283.68,243.27 283.69,244.49 283.69,245.8 283.64,247.19 283.5,248.64 283.28,250.14 282.98,251.67 282.63,253.24 282.23,254.84 281.78,256.46 281.31,258.09 280.82,259.73 280.31,261.37 279.81,263.01 279.31,264.62 278.8,266.22 278.24,267.81 277.64,269.39 277.01,270.97 276.36,272.56 275.7,274.15 275.04,275.78 274.38,277.42 273.74,279.11 273.12,280.83 272.54,282.6 271.99,284.43 271.46,286.32 270.92,288.27 270.38,290.27 269.85,292.32 269.32,294.4 268.83,296.5 268.36,298.62 267.94,300.76 267.56,302.89 267.24,305.01 266.98,307.12 266.8,309.2 266.69,311.26 266.63,313.33 266.62,315.39 266.66,317.45 266.75,319.52 266.88,321.58 267.06,323.65 267.29,325.71 267.56,327.78 267.86,329.84 268.21,331.91 268.59,333.97 269.02,336.03 269.51,338.1 270.05,340.16 270.64,342.23 271.27,344.29 271.93,346.35 272.63,348.42 273.36,350.48 274.1,352.54 274.86,354.61 275.63,356.67 276.41,358.74 277.21,360.78 278.05,362.79 278.92,364.79 279.82,366.77 280.74,368.76 281.68,370.75 282.62,372.76 283.57,374.81 284.51,376.89 285.45,379.03 286.36,381.22 287.26,383.49 288.17,385.93 289.13,388.61 290.12,391.45 291.12,394.39 292.12,397.37 293.1,400.34 294.04,403.21 294.93,405.94 295.74,408.45 296.47,410.69 297.09,412.59 297.59,414.08 295.5,414.71 293.41,415.31 291.31,415.88 289.21,416.43 287.09,416.95 284.97,417.44 284.58,415.92 284.08,413.98 283.51,411.71 282.86,409.15 282.15,406.37 281.4,403.45 280.62,400.43 279.82,397.4 279.01,394.4 278.21,391.51 277.43,388.79 276.69,386.3 275.95,384 275.18,381.76 274.39,379.59 273.59,377.46 272.79,375.38 271.98,373.33 271.19,371.3 270.4,369.28 269.64,367.26 268.91,365.23 268.21,363.18 267.54,361.09 266.91,358.99 266.27,356.89 265.65,354.79 265.05,352.69 264.46,350.59 263.9,348.49 263.37,346.39 262.88,344.29 262.43,342.19 262.02,340.09 261.67,337.99 261.37,335.89 261.12,333.79 260.91,331.69 260.74,329.59 260.6,327.49 260.51,325.39 260.46,323.29 260.45,321.19 260.5,319.09 260.59,316.99 260.73,314.89 260.92,312.79 261.17,310.7 261.49,308.58 261.88,306.44 262.34,304.28 262.85,302.11 263.42,299.94 264.02,297.78 264.66,295.64 265.32,293.52 265.99,291.44 266.66,289.4 267.33,287.42 267.99,285.49 268.66,283.63 269.36,281.83 270.1,280.07 270.86,278.36 271.63,276.68 272.41,275.03 273.18,273.4 273.94,271.79 274.67,270.18 275.38,268.57 276.05,266.95 276.67,265.33 277.28,263.68 277.89,262.02 278.51,260.35 279.11,258.68 279.7,257.02 280.25,255.37 280.76,253.74 281.21,252.14 281.61,250.58 281.93,249.06 282.16,247.59 282.3,246.17 282.39,244.84 282.46,243.59 282.49,242.42 282.48,241.3 282.4,240.22 282.25,239.15 282,238.09 281.65,237 281.18,235.87 280.57,234.68 279.8,233.41 278.88,232.05 277.75,230.62 276.42,229.14 274.91,227.61 273.21,226.06 271.36,224.47 269.41,222.85 267.4,221.19 265.34,219.5 263.27,217.77 261.23,216.01 259.23,214.22 257.3,212.4 255.37,210.51 253.35,208.51 251.27,206.44 249.26,204.28 247.25,202.08 245.25,199.88 243.29,197.69 241.39,195.53 239.58,193.44 237.88,191.42 236.33,189.51 234.93,187.74 233.7,186.09 232.62,184.55 231.66,183.11 230.81,181.74 230.05,180.43 229.35,179.17 228.71,177.93 228.1,176.7 227.51,175.46 226.91,174.2 226.29,172.9 225.62,171.54 224.95,170.15 224.3,168.77 223.68,167.39 223.07,166.01 222.48,164.62 221.9,163.22 221.32,161.81 220.74,160.37 220.16,158.91 219.56,157.43 218.95,155.9 218.31,154.34 217.65,152.74 216.97,151.11 216.27,149.44 215.56,147.74 214.84,146.02 214.12,144.28 213.41,142.52 212.71,140.75 212.02,138.97 211.36,137.18 210.73,135.39 210.14,133.61 209.56,131.83 208.99,130.04 208.43,128.24 207.88,126.44 207.35,124.63 206.85,122.81 206.36,120.97 205.91,119.13 205.49,117.26 205.11,115.38 204.77,113.49 204.47,111.57 204.23,109.56 204.04,107.39 203.89,105.11 203.79,102.78 203.72,100.43 203.68,98.11 203.66,95.86 203.65,93.74 203.64,91.79 203.64,90.05 203.63,88.57 203.6,87.39 201.98,87.84 200.36,88.29 198.75,88.77 197.14,89.26 195.54,89.77Z"/>
<path d="M160.78,105.54 161.21,106.08 161.76,106.75 162.41,107.54 163.14,108.42 163.93,109.39 164.77,110.41 165.63,111.47 166.5,112.54 167.35,113.62 168.17,114.67 168.95,115.69 169.66,116.64 170.32,117.57 170.98,118.5 171.62,119.44 172.25,120.38 172.87,121.32 173.48,122.25 174.08,123.18 174.66,124.09 175.23,125 175.78,125.88 176.32,126.75 176.84,127.59 177.35,128.42 177.86,129.25 178.36,130.06 178.85,130.87 179.33,131.67 179.79,132.44 180.23,133.2 180.64,133.93 181.03,134.64 181.38,135.31 181.7,135.95 181.98,136.55 182.24,137.12 182.49,137.67 182.72,138.2 182.94,138.71 183.13,139.18 183.28,139.63 183.39,140.04 183.44,140.42 183.45,140.76 183.39,141.06 183.26,141.32 183.05,141.53 182.77,141.69 182.4,141.81 181.95,141.89 181.45,141.93 180.89,141.93 180.28,141.89 179.64,141.82 178.96,141.72 178.27,141.58 177.57,141.41 176.86,141.22 176.15,141 175.44,140.74 174.68,140.44 173.9,140.09 173.09,139.71 172.26,139.3 171.41,138.86 170.56,138.39 169.7,137.92 168.84,137.43 167.98,136.94 167.14,136.44 166.31,135.96 165.48,135.46 164.64,134.95 163.8,134.41 162.96,133.87 162.11,133.31 161.27,132.75 160.43,132.18 159.6,131.61 158.79,131.05 158,130.49 157.22,129.94 156.47,129.41 155.74,128.89 155.04,128.36 154.34,127.84 153.67,127.32 153,126.81 152.35,126.29 151.71,125.79 151.08,125.29 150.46,124.8 149.84,124.31 149.22,123.84 148.61,123.37 147.98,122.9 147.33,122.42 146.67,121.93 146,121.43 145.35,120.95 144.7,120.48 144.09,120.03 143.51,119.61 142.98,119.23 142.51,118.88 142.11,118.59 141.78,118.35 143.48,117.21 144.27,116.61 145.05,116.01 145.85,115.42 146.64,114.83 148.37,113.74 148.71,113.98 149.13,114.27 149.62,114.61 150.16,114.99 150.76,115.4 151.4,115.85 152.06,116.31 152.74,116.79 153.43,117.27 154.12,117.76 154.79,118.24 155.44,118.7 156.07,119.16 156.71,119.63 157.35,120.11 158,120.6 158.65,121.09 159.31,121.59 159.99,122.1 160.67,122.6 161.37,123.12 162.09,123.63 162.82,124.15 163.58,124.67 164.35,125.19 165.15,125.73 165.98,126.28 166.82,126.84 167.67,127.4 168.54,127.96 169.41,128.52 170.28,129.07 171.16,129.61 172.03,130.13 172.89,130.64 173.74,131.13 174.6,131.61 175.47,132.09 176.36,132.58 177.24,133.06 178.13,133.53 179.02,133.98 179.89,134.42 180.74,134.82 181.58,135.2 182.39,135.54 183.16,135.84 183.9,136.09 184.63,136.3 185.36,136.49 186.08,136.65 186.79,136.78 187.49,136.88 188.15,136.95 188.77,136.98 189.35,136.98 189.87,136.94 190.32,136.85 190.7,136.73 191,136.57 191.22,136.35 191.35,136.09 191.42,135.79 191.43,135.45 191.38,135.07 191.28,134.65 191.14,134.2 190.97,133.72 190.77,133.21 190.55,132.68 190.32,132.12 190.08,131.55 189.82,130.94 189.52,130.3 189.19,129.62 188.82,128.91 188.43,128.17 188.02,127.41 187.58,126.62 187.13,125.82 186.67,125.01 186.19,124.18 185.71,123.35 185.22,122.51 184.73,121.66 184.22,120.79 183.7,119.9 183.16,118.99 182.61,118.06 182.04,117.13 181.46,116.18 180.87,115.24 180.27,114.29 179.66,113.34 179.04,112.4 178.41,111.47 177.73,110.5 176.99,109.48 176.2,108.42 175.38,107.33 174.56,106.24 173.73,105.18 172.94,104.15 172.18,103.17 171.48,102.28 170.86,101.48 170.33,100.81 169.92,100.26 168.01,101.38 166.66,102.11 165.31,102.84 163.97,103.59 162.64,104.35Z"/>
<path d="M181.18,95.11 181.38,95.93 181.64,96.96 181.94,98.17 182.28,99.53 182.65,101.01 183.04,102.57 183.44,104.19 183.85,105.82 184.26,107.43 184.65,109 185.03,110.49 185.37,111.87 185.7,113.15 186.03,114.38 186.36,115.57 186.69,116.74 187.01,117.89 187.33,119.04 187.65,120.2 187.96,121.38 188.26,122.59 188.56,123.85 188.86,125.17 189.14,126.56 189.42,128.02 189.71,129.54 189.99,131.11 190.27,132.73 190.55,134.37 190.82,136.05 191.08,137.74 191.32,139.44 191.56,141.14 191.77,142.83 191.97,144.5 192.15,146.15 192.32,147.79 192.48,149.42 192.64,151.06 192.78,152.7 192.91,154.34 193.03,155.97 193.12,157.61 193.19,159.24 193.23,160.87 193.24,162.5 193.22,164.13 193.16,165.75 193.06,167.37 192.93,168.99 192.78,170.62 192.6,172.25 192.4,173.88 192.16,175.5 191.9,177.12 191.61,178.72 191.29,180.3 190.94,181.87 190.57,183.42 190.16,184.94 189.73,186.44 189.28,187.94 188.8,189.42 188.3,190.9 187.77,192.35 187.21,193.79 186.62,195.21 185.99,196.61 185.33,197.99 184.64,199.34 183.85,200.68 183,202 182.1,203.3 181.15,204.56 180.15,205.81 179.11,207.03 178.04,208.23 176.94,209.4 175.81,210.55 174.67,211.68 173.51,212.79 172.34,213.88 171.17,214.95 170,216 168.82,217.03 167.62,218.04 166.39,219.03 165.15,220 163.89,220.95 162.62,221.88 161.35,222.78 160.07,223.67 158.8,224.6 157.53,225.55 156.26,226.48 155.01,227.39 153.78,228.26 152.57,229.1 151.38,229.9 150.2,230.67 149.02,231.43 147.84,232.16 146.63,232.89 145.4,233.62 144.13,234.34 142.82,235.08 141.46,235.83 140.04,236.59 138.55,237.38 137,238.18 135.4,238.98 133.75,239.78 132.07,240.59 130.37,241.4 128.64,242.21 126.91,243.01 125.18,243.81 123.46,244.59 121.75,245.36 120.07,246.12 118.42,246.88 116.77,247.65 115.14,248.43 113.51,249.2 111.88,249.96 110.24,250.72 108.6,251.45 106.94,252.16 105.27,252.84 103.58,253.48 101.86,254.08 100.11,254.63 98.26,255.14 96.26,255.61 94.16,256.06 92,256.47 89.83,256.85 87.68,257.2 85.6,257.53 83.63,257.82 81.82,258.09 80.21,258.32 78.84,258.54 77.75,258.72 77.67,256.64 77.63,254.57 77.6,252.49 77.6,250.41 77.63,248.34 77.68,246.26 78.77,246.23 80.15,246.22 81.76,246.21 83.57,246.2 85.54,246.19 87.62,246.16 89.77,246.12 91.95,246.04 94.11,245.94 96.21,245.8 98.21,245.61 100.06,245.37 101.81,245.08 103.53,244.73 105.22,244.34 106.9,243.91 108.56,243.45 110.2,242.97 111.84,242.47 113.47,241.95 115.1,241.43 116.74,240.9 118.38,240.38 120.04,239.88 121.72,239.37 123.43,238.86 125.15,238.33 126.89,237.8 128.62,237.27 130.34,236.72 132.05,236.17 133.73,235.62 135.38,235.07 136.98,234.51 138.53,233.96 140.02,233.41 141.44,232.86 142.81,232.33 144.12,231.8 145.39,231.27 146.62,230.74 147.83,230.21 149.01,229.66 150.2,229.1 151.38,228.52 152.57,227.92 153.77,227.28 155.01,226.61 156.26,225.92 157.53,225.2 158.8,224.47 160.07,223.67 161.35,222.78 162.62,221.88 163.89,220.95 165.15,220 166.39,219.03 167.62,218.04 168.82,217.03 170,216 171.17,214.95 172.34,213.88 173.51,212.79 174.67,211.68 175.81,210.55 176.94,209.4 178.04,208.23 179.11,207.03 180.15,205.81 181.15,204.56 182.1,203.3 183,202 183.85,200.68 184.7,199.31 185.56,197.9 186.38,196.46 187.17,195 187.92,193.52 188.64,192.02 189.34,190.5 190,188.96 190.64,187.42 191.26,185.86 191.85,184.29 192.42,182.71 192.96,181.1 193.48,179.46 193.96,177.81 194.42,176.15 194.86,174.47 195.26,172.78 195.64,171.09 195.99,169.39 196.31,167.7 196.6,166 196.87,164.32 197.1,162.64 197.29,160.95 197.45,159.26 197.58,157.56 197.68,155.86 197.75,154.16 197.81,152.46 197.84,150.75 197.87,149.05 197.88,147.35 197.89,145.65 197.89,143.95 197.88,142.24 197.85,140.49 197.81,138.74 197.76,136.97 197.69,135.2 197.6,133.44 197.51,131.7 197.4,129.99 197.29,128.31 197.17,126.68 197.04,125.1 196.91,123.58 196.77,122.13 196.61,120.76 196.45,119.45 196.27,118.18 196.08,116.96 195.89,115.75 195.69,114.56 195.49,113.36 195.29,112.15 195.09,110.91 194.89,109.63 194.69,108.29 194.49,106.86 194.27,105.31 194.04,103.68 193.8,102 193.57,100.3 193.33,98.62 193.11,97 192.89,95.46 192.7,94.04 192.52,92.78 192.37,91.71 192.25,90.86 190.39,91.52 188.53,92.19 186.68,92.89 184.83,93.61 183,94.35Z"/>
<path d="M139.24,120.61 139.22,121.24 139.19,122.03 139.16,122.96 139.11,124.01 139.07,125.14 139.03,126.34 138.99,127.58 138.97,128.84 138.97,130.09 138.98,131.31 139.02,132.47 139.09,133.56 139.17,134.6 139.25,135.65 139.35,136.7 139.45,137.74 139.57,138.78 139.71,139.81 139.87,140.82 140.07,141.81 140.29,142.77 140.56,143.7 140.87,144.59 141.23,145.44 141.63,146.23 142.04,146.97 142.48,147.67 142.94,148.33 143.44,148.96 143.98,149.58 144.57,150.18 145.2,150.78 145.9,151.39 146.65,152.01 147.47,152.65 148.36,153.33 149.33,154.02 150.37,154.69 151.48,155.36 152.65,156.02 153.87,156.69 155.15,157.38 156.47,158.08 157.83,158.82 159.23,159.58 160.65,160.39 162.1,161.25 163.58,162.16 165.09,163.14 166.66,164.18 168.29,165.28 169.96,166.42 171.67,167.59 173.4,168.79 175.16,170.01 176.92,171.22 178.68,172.43 180.43,173.63 182.16,174.79 183.87,175.92 185.56,177.02 187.25,178.11 188.94,179.18 190.63,180.25 192.32,181.31 194.01,182.37 195.7,183.42 197.39,184.47 199.09,185.52 200.78,186.57 202.47,187.63 204.16,188.69 205.85,189.76 207.54,190.84 209.23,191.92 210.92,193.02 212.61,194.11 214.3,195.19 215.99,196.27 217.68,197.34 219.37,198.4 221.06,199.44 222.75,200.46 224.44,201.45 226.14,202.42 227.86,203.37 229.59,204.31 231.32,205.23 233.05,206.13 234.77,207.03 236.49,207.91 238.19,208.78 239.86,209.65 241.52,210.51 243.14,211.37 244.72,212.21 246.28,212.99 247.78,213.73 249.26,214.44 250.7,215.14 252.12,215.83 253.53,216.52 254.93,217.23 256.33,217.97 257.74,218.75 259.17,219.59 260.61,220.48 262.09,221.46 263.61,222.51 265.19,223.62 266.79,224.81 268.4,226.05 270.03,227.33 271.65,228.65 273.24,229.98 274.79,231.34 276.29,232.7 277.71,234.06 279.05,235.41 280.29,236.75 281.41,238.1 282.44,239.5 283.38,240.94 284.26,242.4 285.08,243.87 285.85,245.33 286.6,246.77 287.34,248.17 288.07,249.53 288.82,250.83 289.6,252.06 290.41,253.19 291.11,254.21 291.56,255.1 291.85,255.88 292.05,256.6 292.26,257.27 292.55,257.92 293,258.57 293.69,259.25 294.7,259.99 296.13,260.8 298.03,261.72 300.51,262.77 303.61,263.98 307.27,265.34 311.42,266.82 315.98,268.38 320.86,269.99 325.99,271.63 331.27,273.25 336.64,274.84 342.01,276.35 347.29,277.75 352.41,279.01 357.29,280.1 362.2,281.05 367.39,281.89 372.79,282.65 378.28,283.33 383.77,283.93 389.17,284.46 394.36,284.94 399.26,285.36 403.77,285.73 407.78,286.07 411.21,286.37 413.95,286.65 413.55,288.49 413.13,290.32 412.69,292.15 412.23,293.97 411.76,295.79 411.26,297.6 408.56,297.17 405.18,296.67 401.22,296.11 396.77,295.48 391.94,294.79 386.82,294.02 381.5,293.19 376.08,292.28 370.67,291.3 365.35,290.23 360.22,289.09 355.38,287.87 350.57,286.5 345.53,284.94 340.32,283.23 335.03,281.41 329.74,279.51 324.53,277.58 319.48,275.64 314.66,273.74 310.17,271.91 306.08,270.18 302.47,268.6 299.42,267.21 296.98,266.01 295.1,264.97 293.7,264.06 292.7,263.25 292.03,262.51 291.59,261.82 291.31,261.13 291.11,260.42 290.92,259.66 290.64,258.82 290.2,257.88 289.53,256.79 288.73,255.58 287.97,254.27 287.25,252.89 286.53,251.44 285.82,249.94 285.1,248.41 284.34,246.85 283.55,245.29 282.7,243.74 281.78,242.2 280.77,240.7 279.67,239.24 278.46,237.8 277.15,236.34 275.75,234.87 274.29,233.4 272.76,231.93 271.2,230.47 269.61,229.04 268.01,227.64 266.42,226.29 264.86,224.99 263.35,223.73 261.89,222.54 260.48,221.43 259.1,220.41 257.74,219.45 256.39,218.54 255.05,217.68 253.71,216.85 252.36,216.04 251,215.23 249.62,214.42 248.21,213.58 246.76,212.71 245.28,211.8 243.74,210.88 242.17,209.99 240.56,209.09 238.93,208.19 237.28,207.28 235.61,206.36 233.93,205.43 232.25,204.48 230.56,203.53 228.88,202.55 227.21,201.57 225.56,200.56 223.92,199.52 222.28,198.47 220.63,197.39 218.99,196.3 217.35,195.19 215.71,194.07 214.07,192.94 212.42,191.81 210.78,190.68 209.14,189.56 207.5,188.44 205.85,187.33 204.21,186.23 202.57,185.13 200.93,184.04 199.28,182.95 197.64,181.87 196,180.78 194.36,179.68 192.71,178.58 191.07,177.48 189.43,176.36 187.79,175.24 186.14,174.1 184.49,172.93 182.8,171.72 181.1,170.49 179.4,169.24 177.69,167.98 175.99,166.73 174.3,165.49 172.65,164.27 171.02,163.09 169.44,161.95 167.91,160.87 166.44,159.86 165.01,158.92 163.6,158.03 162.22,157.19 160.86,156.39 159.53,155.63 158.25,154.89 157.01,154.18 155.82,153.48 154.68,152.79 153.61,152.1 152.6,151.4 151.66,150.69 150.79,149.99 150,149.33 149.27,148.69 148.6,148.06 147.98,147.44 147.41,146.83 146.89,146.2 146.41,145.55 145.97,144.87 145.55,144.16 145.16,143.4 144.79,142.59 144.45,141.72 144.16,140.82 143.92,139.87 143.71,138.89 143.54,137.88 143.4,136.85 143.29,135.8 143.2,134.74 143.12,133.67 143.05,132.6 142.99,131.53 142.94,130.47 142.9,129.37 142.89,128.18 142.9,126.94 142.94,125.66 142.99,124.38 143.06,123.12 143.13,121.89 143.2,120.74 143.27,119.67 143.33,118.72 143.38,117.91 143.41,117.27 142.7,117.82 142,118.37 141.31,118.93 140.62,119.49 139.93,120.05Z"/>
</g>
<g fill="none" stroke="#b9b9b9" stroke-width="1.2">
<path d="M83.8,206.1 84.54,206.28 85.41,206.51 86.39,206.77 87.49,207.07 88.7,207.39 90.03,207.74 91.45,208.1 92.98,208.47 94.6,208.86 96.31,209.24 98.12,209.62 100,210 101.99,210.38 104.11,210.78 106.34,211.18 108.68,211.6 111.12,212.03 113.64,212.46 116.23,212.9 118.9,213.33 121.61,213.76 124.38,214.18 127.18,214.6 130,215 132.86,215.41 135.78,215.84 138.76,216.28 141.79,216.73 144.88,217.17 148.03,217.6 151.22,218.01 154.47,218.4 157.78,218.75 161.13,219.05 164.54,219.31 168,219.5 171.54,219.64 175.18,219.74 178.91,219.8 182.71,219.82 186.56,219.8 190.44,219.76 194.35,219.68 198.26,219.57 202.16,219.44 206.02,219.28 209.84,219.1 213.6,218.9 217.34,218.68 221.12,218.43 224.92,218.16 228.71,217.87 232.5,217.54 236.26,217.19 239.97,216.82 243.62,216.41 247.19,215.98 250.68,215.51 254.05,215.02 257.3,214.5 260.36,213.93 263.19,213.29 265.84,212.6 268.37,211.88 270.83,211.12 273.26,210.35 275.71,209.57 278.23,208.8 280.87,208.05 283.68,207.32 286.7,206.63 290,206 293.59,205.41 297.45,204.86 301.52,204.32 305.76,203.81 310.11,203.32 314.54,202.84 319,202.37 323.43,201.91 327.8,201.44 332.05,200.97 336.13,200.49 340,200 343.73,199.5 347.41,199 351.05,198.49 354.62,197.99 358.12,197.48 361.54,196.98 364.88,196.48 368.12,195.98 371.26,195.48 374.29,194.98 377.21,194.49 380,194 382.71,193.5 385.37,192.97 387.97,192.43 390.49,191.88 392.9,191.33 395.19,190.79 397.35,190.27 399.35,189.79 401.17,189.34 402.79,188.94 404.21,188.6 405.39,188.33"/>
<path d="M214,84.95 214.4,86.17 214.88,87.65 215.43,89.38 216.05,91.32 216.72,93.43 217.46,95.7 218.24,98.07 219.06,100.52 219.93,103.03 220.83,105.54 221.75,108.05 222.7,110.5 223.7,113.02 224.79,115.71 225.94,118.53 227.14,121.44 228.39,124.39 229.66,127.36 230.94,130.29 232.21,133.15 233.47,135.89 234.7,138.47 235.88,140.85 237,143 238.04,144.91 239,146.63 239.91,148.19 240.77,149.6 241.62,150.9 242.47,152.11 243.34,153.25 244.26,154.34 245.25,155.42 246.32,156.51 247.5,157.63 248.8,158.8 250.24,160.01 251.8,161.21 253.47,162.4 255.21,163.58 257.03,164.74 258.89,165.88 260.78,166.99 262.67,168.07 264.56,169.11 266.43,170.12 268.25,171.08 270,172 271.63,172.88 273.1,173.72 274.47,174.53 275.79,175.3 277.1,176.04 278.45,176.75 279.88,177.42 281.45,178.05 283.2,178.65 285.18,179.2 287.43,179.72 290,180.2 293.02,180.64 296.53,181.06 300.41,181.45 304.57,181.8 308.92,182.11 313.34,182.38 317.75,182.61 322.04,182.79 326.11,182.93 329.86,183.01 333.19,183.03 336,183 338.28,182.9 340.12,182.75 341.61,182.53 342.8,182.26 343.77,181.93 344.59,181.57 345.34,181.16 346.09,180.72 346.91,180.25 347.87,179.75 349.04,179.23 350.5,178.7 352.21,178.12 354.08,177.49 356.08,176.8 358.18,176.07 360.35,175.31 362.55,174.52 364.77,173.73 366.97,172.94 369.12,172.17 371.2,171.41 373.17,170.68 375,170 376.77,169.33 378.54,168.64 380.3,167.95 382.04,167.25 383.72,166.57 385.34,165.91 386.88,165.28 388.31,164.68 389.62,164.14 390.79,163.66 391.8,163.24 392.63,162.9"/>
<path d="M77.95,262.57 79.92,262.4 82.4,262.18 85.34,261.92 88.63,261.62 92.21,261.31 95.98,260.97 99.86,260.63 103.76,260.28 107.62,259.94 111.33,259.6 114.82,259.29 118,259 120.91,258.7 123.64,258.34 126.25,257.96 128.76,257.57 131.22,257.17 133.66,256.8 136.12,256.47 138.63,256.19 141.24,255.99 143.98,255.88 146.89,255.88 150,256 153.42,256.27 157.16,256.7 161.15,257.25 165.31,257.89 169.57,258.61 173.84,259.38 178.06,260.17 182.13,260.96 185.99,261.73 189.55,262.44 192.75,263.07 195.5,263.6 197.8,264.02 199.72,264.35 201.32,264.61 202.66,264.83 203.77,265.02 204.73,265.2 205.58,265.4 206.37,265.63 207.15,265.91 207.98,266.27 208.91,266.73 210,267.3 211.16,267.96 212.27,268.68 213.36,269.46 214.43,270.29 215.5,271.17 216.57,272.11 217.67,273.1 218.79,274.15 219.95,275.25 221.17,276.41 222.45,277.63 223.8,278.9 225.26,280.27 226.83,281.76 228.49,283.35 230.21,285.01 231.97,286.73 233.75,288.49 235.52,290.25 237.27,292.01 238.96,293.74 240.58,295.41 242.1,297 243.5,298.5 244.77,299.78 245.95,300.79 247.04,301.6 248.06,302.3 249.03,302.97 249.96,303.69 250.88,304.54 251.79,305.6 252.71,306.94 253.66,308.65 254.65,310.81 255.7,313.5 256.82,316.78 257.99,320.6 259.19,324.88 260.42,329.54 261.66,334.48 262.91,339.63 264.13,344.89 265.33,350.19 266.49,355.44 267.6,360.54 268.64,365.43 269.6,370 270.5,374.5 271.38,379.16 272.22,383.91 273.03,388.68 273.8,393.4 274.52,397.99 275.2,402.38 275.82,406.51 276.38,410.3 276.89,413.68 277.33,416.57 277.7,418.91"/>
<path d="M80.67,219.45 82.12,220.06 83.99,220.82 86.2,221.71 88.69,222.71 91.38,223.79 94.21,224.95 97.1,226.14 99.98,227.36 102.78,228.57 105.43,229.77 107.86,230.92 110,232 111.88,233.05 113.59,234.11 115.16,235.18 116.62,236.25 118.01,237.32 119.35,238.38 120.66,239.44 121.99,240.49 123.36,241.52 124.8,242.54 126.33,243.53 128,244.5 129.72,245.42 131.4,246.3 133.08,247.13 134.77,247.94 136.5,248.73 138.29,249.53 140.18,250.33 142.18,251.15 144.31,252 146.61,252.91 149.1,253.87 151.8,254.9 154.78,256.01 158.06,257.2 161.58,258.46 165.3,259.76 169.15,261.09 173.09,262.45 177.06,263.81 181.01,265.16 184.88,266.49 188.62,267.78 192.18,269.02 195.5,270.2 198.64,271.34 201.71,272.47 204.7,273.59 207.62,274.69 210.46,275.77 213.22,276.82 215.9,277.83 218.51,278.81 221.05,279.74 223.51,280.62 225.89,281.44 228.2,282.2 230.41,282.88 232.49,283.49 234.47,284.02 236.36,284.5 238.17,284.94 239.92,285.34 241.62,285.71 243.3,286.07 244.96,286.43 246.62,286.8 248.3,287.19 250,287.6 251.55,288.02 252.81,288.43 253.86,288.83 254.81,289.22 255.75,289.61 256.76,290 257.94,290.4 259.39,290.8 261.18,291.22 263.42,291.66 266.2,292.11 269.6,292.6 273.78,293.13 278.75,293.7 284.34,294.32 290.43,294.96 296.87,295.61 303.53,296.26 310.25,296.91 316.9,297.53 323.35,298.13 329.44,298.68 335.04,299.17 340,299.6 344.43,299.97 348.54,300.29 352.38,300.57 355.96,300.81 359.34,301.03 362.54,301.21 365.59,301.37 368.55,301.52 371.43,301.65 374.27,301.77 377.12,301.88 380,302 382.94,302.11 385.9,302.19 388.87,302.26 391.8,302.31 394.66,302.34 397.41,302.37 400.02,302.39 402.47,302.4 404.7,302.4 406.69,302.41 408.41,302.42 409.82,302.44"/>
<path d="M353.89,118.93 353.63,119.6 353.29,120.45 352.9,121.43 352.46,122.54 351.98,123.75 351.48,125.03 350.96,126.36 350.43,127.72 349.91,129.09 349.41,130.44 348.94,131.75 348.5,133 348.09,134.22 347.68,135.47 347.28,136.73 346.88,138.01 346.49,139.29 346.1,140.57 345.72,141.84 345.36,143.11 345,144.37 344.65,145.61 344.32,146.82 344,148 343.68,149.16 343.36,150.32 343.04,151.46 342.72,152.59 342.42,153.71 342.12,154.81 341.86,155.9 341.61,156.96 341.4,158.01 341.22,159.03 341.09,160.03 341,161 340.99,161.89 341.07,162.68 341.22,163.38 341.43,164.04 341.66,164.67 341.91,165.31 342.14,165.99 342.35,166.74 342.51,167.59 342.6,168.56 342.61,169.69 342.5,171 342.29,172.44 342.01,173.95 341.65,175.52 341.24,177.19 340.78,178.94 340.28,180.81 339.75,182.8 339.2,184.93 338.64,187.2 338.08,189.62 337.53,192.22 337,195 336.46,198 335.89,201.23 335.29,204.66 334.67,208.26 334.04,212.01 333.41,215.88 332.78,219.83 332.17,223.85 331.57,227.91 331.01,231.97 330.48,236.01 330,240 329.55,244.02 329.12,248.16 328.72,252.38 328.33,256.67 327.97,260.99 327.62,265.31 327.3,269.62 327,273.89 326.72,278.09 326.46,282.19 326.22,286.17 326,290 325.8,293.7 325.61,297.3 325.45,300.82 325.3,304.26 325.17,307.63 325.06,310.94 324.98,314.19 324.93,317.41 324.9,320.59 324.9,323.74 324.93,326.87 325,330 325.09,333.11 325.19,336.17 325.31,339.2 325.46,342.19 325.63,345.15 325.83,348.08 326.07,350.97 326.36,353.83 326.69,356.66 327.07,359.47 327.5,362.25 328,365 328.6,367.81 329.34,370.73 330.18,373.71 331.09,376.71 332.05,379.68 333.03,382.57 334,385.34 334.93,387.95 335.79,390.34 336.56,392.47 337.2,394.29 337.69,395.77"/>
<path d="M364.84,128.49 364.6,129.04 364.31,129.7 363.97,130.48 363.59,131.35 363.17,132.29 362.73,133.31 362.27,134.37 361.8,135.48 361.33,136.61 360.87,137.75 360.42,138.88 360,140 359.59,141.13 359.18,142.32 358.76,143.55 358.35,144.82 357.93,146.1 357.51,147.41 357.09,148.72 356.67,150.02 356.25,151.31 355.84,152.58 355.42,153.81 355,155 354.58,156.16 354.16,157.29 353.73,158.41 353.3,159.52 352.87,160.61 352.44,161.69 352.01,162.76 351.59,163.81 351.18,164.87 350.78,165.91 350.38,166.96 350,168 349.65,168.99 349.33,169.91 349.05,170.77 348.78,171.59 348.52,172.41 348.25,173.25 347.97,174.13 347.67,175.07 347.33,176.11 346.94,177.26 346.51,178.55 346,180 345.42,181.55 344.78,183.12 344.08,184.75 343.33,186.44 342.55,188.23 341.75,190.12 340.93,192.15 340.11,194.33 339.3,196.69 338.5,199.24 337.73,202 337,205 336.28,208.29 335.55,211.89 334.81,215.74 334.07,219.81 333.34,224.06 332.62,228.44 331.93,232.9 331.26,237.41 330.62,241.91 330.03,246.38 329.49,250.75 329,255 328.56,259.21 328.16,263.51 327.8,267.85 327.48,272.22 327.19,276.59 326.94,280.94 326.71,285.23 326.52,289.44 326.35,293.55 326.21,297.53 326.09,301.36 326,305 325.92,308.49 325.85,311.88 325.8,315.16 325.78,318.33 325.78,321.41 325.81,324.38 325.88,327.24 326,330 326.16,332.66 326.38,335.21 326.66,337.66 327,340 327.38,342.19 327.77,344.18 328.18,346.01 328.63,347.71 329.13,349.3 329.7,350.82 330.33,352.3 331.05,353.75 331.86,355.22 332.78,356.73 333.83,358.32 335,360 336.41,361.82 338.1,363.78 340.01,365.84 342.07,367.95 344.24,370.07 346.44,372.16 348.61,374.19 350.69,376.1 352.62,377.86 354.33,379.43 355.77,380.77 356.87,381.83"/>
<path d="M125.26,133.56 125.94,134.15 126.76,134.86 127.69,135.69 128.74,136.62 129.89,137.63 131.13,138.72 132.46,139.86 133.86,141.06 135.32,142.28 136.84,143.52 138.4,144.76 140,146 141.67,147.24 143.44,148.5 145.3,149.79 147.24,151.11 149.24,152.46 151.3,153.84 153.39,155.26 155.51,156.72 157.64,158.22 159.78,159.77 161.9,161.36 164,163 166.1,164.74 168.25,166.61 170.42,168.58 172.61,170.62 174.81,172.7 177.03,174.8 179.24,176.88 181.44,178.91 183.62,180.87 185.78,182.72 187.91,184.44 190,186 192.06,187.4 194.09,188.66 196.11,189.81 198.11,190.87 200.09,191.86 202.06,192.79 204.01,193.68 205.95,194.55 207.88,195.42 209.79,196.3 211.7,197.22 213.6,198.2 215.48,199.22 217.35,200.25 219.2,201.29 221.03,202.34 222.85,203.38 224.66,204.42 226.47,205.44 228.27,206.45 230.07,207.44 231.88,208.39 233.68,209.32 235.5,210.2 237.29,211.02 239.01,211.76 240.7,212.45 242.37,213.1 244.04,213.72 245.73,214.34 247.45,214.97 249.23,215.63 251.09,216.34 253.04,217.11 255.1,217.95 257.3,218.9 259.7,219.98 262.32,221.2 265.11,222.53 268.03,223.94 271.02,225.39 274.04,226.86 277.04,228.31 279.97,229.71 282.78,231.03 285.42,232.24 287.84,233.31 290,234.2 291.82,234.9 293.32,235.42 294.55,235.79 295.6,236.05 296.53,236.23 297.41,236.37 298.31,236.49 299.3,236.63 300.44,236.81 301.81,237.08 303.47,237.47 305.5,238 307.88,238.68 310.54,239.46 313.43,240.34 316.52,241.28 319.77,242.28 323.13,243.3 326.57,244.34 330.06,245.36 333.54,246.36 336.98,247.31 340.35,248.2 343.6,249 346.79,249.73 349.99,250.41 353.21,251.06 356.43,251.68 359.65,252.27 362.86,252.83 366.07,253.38 369.26,253.91 372.44,254.44 375.59,254.96 378.71,255.48 381.8,256 384.97,256.54 388.28,257.09 391.7,257.65 395.15,258.2 398.58,258.75 401.94,259.28 405.16,259.78 408.2,260.26 410.98,260.69 413.47,261.08 415.59,261.41 417.3,261.68"/>
<path d="M214,84.95 214.4,86.17 214.88,87.65 215.43,89.38 216.05,91.32 216.72,93.43 217.46,95.7 218.24,98.07 219.06,100.52 219.93,103.03 220.83,105.54 221.75,108.05 222.7,110.5 223.7,113.01 224.79,115.69 225.95,118.5 227.16,121.39 228.4,124.33 229.68,127.28 230.96,130.21 232.23,133.06 233.49,135.8 234.71,138.4 235.89,140.81 237,143 238.06,144.94 239.11,146.67 240.14,148.23 241.14,149.64 242.13,150.94 243.09,152.17 244.04,153.36 244.97,154.55 245.88,155.78 246.77,157.07 247.65,158.46 248.5,160 249.32,161.61 250.1,163.23 250.84,164.86 251.56,166.51 252.25,168.19 252.94,169.92 253.62,171.7 254.31,173.55 255.02,175.47 255.74,177.48 256.5,179.59 257.3,181.8 258.13,184.18 259,186.74 259.88,189.46 260.78,192.29 261.69,195.2 262.62,198.14 263.55,201.09 264.49,204 265.43,206.83 266.36,209.55 267.28,212.12 268.2,214.5 269.12,216.73 270.07,218.87 271.03,220.93 272,222.91 272.96,224.81 273.92,226.64 274.87,228.41 275.79,230.11 276.68,231.76 277.54,233.36 278.35,234.9 279.1,236.4 279.8,237.8 280.47,239.07 281.09,240.23 281.68,241.31 282.24,242.33 282.78,243.32 283.28,244.3 283.77,245.3 284.25,246.34 284.71,247.46 285.16,248.67 285.6,250 286.02,251.41 286.4,252.85 286.75,254.32 287.07,255.82 287.38,257.37 287.68,258.98 287.98,260.63 288.28,262.36 288.6,264.15 288.93,266.01 289.3,267.96 289.7,270 290.14,272.15 290.6,274.42 291.09,276.8 291.6,279.26 292.12,281.79 292.65,284.38 293.18,286.99 293.71,289.63 294.23,292.27 294.74,294.88 295.23,297.47 295.7,300 296.15,302.5 296.6,305 297.04,307.5 297.47,310 297.9,312.5 298.31,315 298.72,317.5 299.12,320 299.51,322.5 299.88,325 300.25,327.5 300.6,330 300.94,332.52 301.27,335.06 301.59,337.62 301.9,340.19 302.19,342.75 302.48,345.31 302.76,347.85 303.03,350.37 303.28,352.85 303.53,355.29 303.77,357.68 304,360 304.21,362.26 304.41,364.45 304.59,366.59 304.75,368.69 304.91,370.76 305.05,372.79 305.2,374.81 305.35,376.83 305.5,378.85 305.65,380.87 305.82,382.92 306,385 306.2,387.18 306.42,389.49 306.65,391.9 306.9,394.35 307.14,396.8 307.39,399.22 307.62,401.54 307.85,403.74 308.06,405.75 308.24,407.55 308.4,409.08 308.52,410.31"/>
<path d="M399.8,175.88 398.62,176.29 397.14,176.77 395.42,177.3 393.48,177.9 391.37,178.57 389.13,179.3 386.8,180.09 384.4,180.94 381.99,181.86 379.59,182.84 377.25,183.89 375,185 372.83,186.23 370.69,187.62 368.55,189.13 366.41,190.74 364.25,192.41 362.06,194.11 359.81,195.82 357.5,197.5 355.11,199.11 352.62,200.64 350.02,202.05 347.3,203.3 344.37,204.4 341.19,205.37 337.83,206.25 334.33,207.04 330.75,207.77 327.14,208.47 323.57,209.15 320.07,209.83 316.71,210.53 313.54,211.28 310.62,212.1 308,213 305.64,213.97 303.44,214.96 301.41,215.98 299.53,217.02 297.78,218.09 296.16,219.18 294.65,220.3 293.24,221.43 291.92,222.59 290.69,223.77 289.52,224.98 288.4,226.2 287.36,227.47 286.43,228.79 285.61,230.17 284.87,231.58 284.23,233.01 283.68,234.45 283.2,235.89 282.79,237.31 282.46,238.71 282.18,240.06 281.97,241.36 281.8,242.6 281.69,243.79 281.63,244.97 281.63,246.13 281.7,247.27 281.84,248.37 282.05,249.45 282.33,250.49 282.7,251.49 283.14,252.44 283.67,253.35 284.29,254.2 285,255 285.79,255.74 286.63,256.42 287.55,257.04 288.54,257.62 289.61,258.16 290.77,258.65 292.03,259.11 293.39,259.53 294.86,259.93 296.44,260.31 298.16,260.66 300,261 301.95,261.29 304,261.51 306.14,261.68 308.38,261.8 310.74,261.89 313.21,261.97 315.8,262.05 318.53,262.15 321.4,262.28 324.41,262.45 327.57,262.69 330.9,263 334.49,263.39 338.42,263.84 342.61,264.34 347,264.89 351.53,265.46 356.14,266.06 360.76,266.67 365.33,267.28 369.78,267.87 374.05,268.45 378.08,269 381.8,269.5 385.35,269.99 388.87,270.48 392.34,270.98 395.72,271.47 398.98,271.95 402.1,272.42 405.05,272.86 407.79,273.28 410.28,273.66 412.51,274 414.45,274.29 416.05,274.52"/>
<path d="M198.75,88.77 198.82,89.93 198.88,91.4 198.95,93.12 199.03,95.05 199.11,97.15 199.22,99.37 199.34,101.67 199.5,103.99 199.69,106.31 199.91,108.56 200.18,110.7 200.5,112.7 200.87,114.6 201.28,116.47 201.73,118.33 202.22,120.17 202.75,122 203.3,123.81 203.87,125.62 204.47,127.41 205.09,129.19 205.72,130.97 206.36,132.74 207,134.5 207.67,136.26 208.37,138.03 209.1,139.8 209.85,141.56 210.62,143.31 211.41,145.05 212.19,146.77 212.98,148.47 213.76,150.15 214.53,151.8 215.28,153.42 216,155 216.7,156.54 217.37,158.05 218.02,159.52 218.67,160.96 219.3,162.38 219.94,163.78 220.58,165.16 221.22,166.54 221.88,167.9 222.56,169.27 223.27,170.63 224,172 224.72,173.34 225.4,174.63 226.05,175.87 226.69,177.1 227.35,178.31 228.04,179.54 228.79,180.79 229.61,182.08 230.52,183.43 231.54,184.86 232.69,186.38 234,188 235.48,189.75 237.13,191.64 238.93,193.62 240.84,195.69 242.84,197.81 244.91,199.98 247.02,202.15 249.15,204.31 251.27,206.44 253.35,208.51 255.37,210.51 257.3,212.4 259.23,214.22 261.23,216.01 263.27,217.77 265.34,219.5 267.4,221.19 269.41,222.85 271.36,224.47 273.21,226.06 274.94,227.61 276.52,229.11 277.91,230.58 279.1,232 280.08,233.35 280.89,234.6 281.54,235.78 282.06,236.9 282.44,237.98 282.73,239.04 282.91,240.1 283.02,241.17 283.07,242.28 283.07,243.44 283.04,244.68 283,246 282.9,247.41 282.72,248.87 282.45,250.38 282.1,251.93 281.7,253.51 281.24,255.12 280.75,256.76 280.22,258.41 279.67,260.06 279.11,261.72 278.55,263.37 278,265 277.43,266.62 276.82,268.22 276.16,269.81 275.48,271.41 274.78,273.01 274.06,274.62 273.34,276.26 272.63,277.93 271.93,279.62 271.25,281.37 270.61,283.16 270,285 269.41,286.91 268.8,288.88 268.2,290.9 267.59,292.96 267,295.06 266.44,297.19 265.9,299.33 265.41,301.48 264.96,303.63 264.57,305.78 264.25,307.9 264,310 263.82,312.08 263.69,314.17 263.62,316.25 263.59,318.33 263.62,320.42 263.69,322.5 263.8,324.58 263.96,326.67 264.16,328.75 264.41,330.83 264.68,332.92 265,335 265.36,337.08 265.78,339.17 266.26,341.25 266.78,343.33 267.34,345.42 267.94,347.5 268.57,349.58 269.22,351.67 269.9,353.75 270.59,355.83 271.29,357.92 272,360 272.73,362.06 273.5,364.1 274.31,366.11 275.14,368.12 275.99,370.12 276.86,372.13 277.73,374.17 278.61,376.23 279.48,378.34 280.34,380.49 281.18,382.71 282,385 282.83,387.47 283.7,390.16 284.59,393.03 285.5,396 286.4,399.02 287.28,402 288.13,404.91 288.92,407.66 289.66,410.2 290.31,412.46 290.86,414.37 291.31,415.88"/>
<path d="M165.31,102.84 165.74,103.38 166.28,104.06 166.91,104.85 167.63,105.74 168.4,106.71 169.22,107.73 170.06,108.8 170.91,109.88 171.74,110.96 172.55,112.02 173.31,113.04 174,114 174.65,114.93 175.29,115.87 175.92,116.81 176.53,117.75 177.14,118.7 177.73,119.63 178.31,120.57 178.88,121.49 179.43,122.39 179.97,123.28 180.49,124.15 181,125 181.5,125.83 182,126.66 182.48,127.48 182.96,128.3 183.43,129.09 183.88,129.88 184.3,130.63 184.7,131.37 185.08,132.08 185.42,132.75 185.73,133.4 186,134 186.25,134.57 186.49,135.13 186.72,135.66 186.93,136.17 187.11,136.65 187.25,137.09 187.35,137.51 187.41,137.89 187.41,138.23 187.34,138.53 187.21,138.79 187,139 186.71,139.17 186.33,139.29 185.88,139.37 185.37,139.41 184.8,139.41 184.19,139.38 183.53,139.31 182.85,139.2 182.15,139.07 181.43,138.91 180.71,138.72 180,138.5 179.27,138.25 178.51,137.94 177.71,137.6 176.89,137.22 176.05,136.81 175.19,136.38 174.32,135.92 173.44,135.44 172.57,134.96 171.7,134.47 170.84,133.98 170,133.5 169.16,133.01 168.31,132.5 167.45,131.97 166.59,131.43 165.73,130.87 164.88,130.31 164.02,129.75 163.19,129.19 162.36,128.62 161.55,128.07 160.76,127.53 160,127 159.26,126.48 158.54,125.96 157.83,125.44 157.15,124.93 156.47,124.41 155.81,123.91 155.16,123.4 154.51,122.91 153.88,122.42 153.25,121.94 152.62,121.46 152,121 151.36,120.53 150.7,120.05 150.03,119.56 149.35,119.08 148.68,118.6 148.03,118.13 147.4,117.68 146.82,117.27 146.28,116.88 145.8,116.54 145.39,116.25 145.05,116.01"/>
<path d="M186.68,92.89 186.84,93.72 187.04,94.78 187.28,96.01 187.55,97.41 187.84,98.91 188.15,100.51 188.47,102.15 188.79,103.82 189.11,105.47 189.43,107.07 189.72,108.59 190,110 190.26,111.31 190.53,112.56 190.8,113.78 191.06,114.97 191.32,116.15 191.58,117.32 191.84,118.5 192.09,119.71 192.33,120.95 192.56,122.24 192.79,123.58 193,125 193.21,126.49 193.41,128.04 193.62,129.65 193.81,131.3 194.01,132.98 194.19,134.69 194.36,136.41 194.52,138.15 194.66,139.88 194.79,141.61 194.91,143.32 195,145 195.08,146.67 195.16,148.34 195.23,150.01 195.3,151.68 195.34,153.35 195.38,155.03 195.38,156.7 195.37,158.36 195.33,160.03 195.25,161.69 195.15,163.35 195,165 194.82,166.65 194.61,168.32 194.38,169.98 194.11,171.64 193.82,173.31 193.5,174.96 193.15,176.61 192.78,178.24 192.38,179.86 191.94,181.47 191.49,183.04 191,184.6 190.49,186.14 189.96,187.67 189.4,189.18 188.81,190.69 188.2,192.18 187.56,193.65 186.89,195.1 186.19,196.53 185.45,197.94 184.67,199.32 183.85,200.68 183,202 182.1,203.3 181.15,204.56 180.15,205.81 179.11,207.03 178.04,208.23 176.94,209.4 175.81,210.55 174.67,211.68 173.51,212.79 172.34,213.88 171.17,214.95 170,216 168.82,217.03 167.62,218.04 166.39,219.03 165.15,220 163.89,220.95 162.62,221.88 161.35,222.78 160.07,223.67 158.8,224.53 157.52,225.38 156.26,226.2 155,227 153.77,227.77 152.56,228.51 151.37,229.21 150.19,229.89 149,230.55 147.81,231.19 146.6,231.82 145.37,232.44 144.1,233.07 142.79,233.7 141.43,234.34 140,235 138.51,235.67 136.96,236.34 135.35,237.02 133.7,237.7 132.02,238.38 130.31,239.06 128.59,239.74 126.85,240.41 125.12,241.07 123.39,241.72 121.68,242.37 120,243 118.34,243.63 116.69,244.28 115.06,244.93 113.42,245.57 111.79,246.22 110.15,246.84 108.5,247.45 106.84,248.04 105.17,248.59 103.47,249.11 101.75,249.58 100,250 98.15,250.37 96.15,250.7 94.04,251 91.88,251.26 89.7,251.48 87.55,251.68 85.47,251.86 83.5,252.01 81.68,252.15 80.07,252.27 78.69,252.38 77.6,252.49"/>
<path d="M141.31,118.93 141.29,119.56 141.25,120.36 141.2,121.3 141.14,122.36 141.09,123.5 141.03,124.71 140.98,125.97 140.94,127.24 140.92,128.5 140.92,129.73 140.95,130.91 141,132 141.07,133.05 141.14,134.11 141.22,135.17 141.31,136.23 141.42,137.28 141.54,138.32 141.7,139.34 141.88,140.34 142.09,141.31 142.35,142.24 142.65,143.14 143,144 143.38,144.8 143.78,145.55 144.21,146.26 144.67,146.93 145.16,147.57 145.69,148.19 146.26,148.8 146.89,149.41 147.57,150.02 148.31,150.66 149.12,151.31 150,152 150.95,152.7 151.98,153.38 153.07,154.06 154.22,154.74 155.43,155.43 156.69,156.12 157.99,156.84 159.33,157.59 160.71,158.38 162.12,159.2 163.55,160.07 165,161 166.49,161.99 168.04,163.06 169.65,164.17 171.3,165.33 172.98,166.53 174.69,167.75 176.41,168.98 178.15,170.22 179.88,171.45 181.61,172.67 183.32,173.85 185,175 186.67,176.12 188.33,177.22 190,178.32 191.67,179.41 193.33,180.49 195,181.56 196.67,182.63 198.33,183.7 200,184.77 201.67,185.84 203.33,186.92 205,188 206.67,189.09 208.33,190.19 210,191.3 211.67,192.41 213.33,193.52 215,194.62 216.67,195.73 218.33,196.81 220,197.89 221.67,198.95 223.33,199.99 225,201 226.68,201.99 228.37,202.96 230.07,203.91 231.78,204.85 233.49,205.78 235.19,206.69 236.88,207.59 238.56,208.48 240.21,209.37 241.84,210.25 243.44,211.12 245,212 246.52,212.85 248,213.66 249.44,214.43 250.85,215.19 252.25,215.93 253.62,216.69 255,217.46 256.37,218.26 257.75,219.1 259.14,220 260.56,220.96 262,222 263.49,223.12 265.03,224.31 266.62,225.55 268.22,226.85 269.83,228.19 271.44,229.56 273.02,230.96 274.56,232.37 276.04,233.79 277.45,235.21 278.78,236.61 280,238 281.11,239.4 282.13,240.86 283.06,242.34 283.93,243.85 284.73,245.37 285.5,246.88 286.24,248.36 286.96,249.81 287.69,251.22 288.43,252.56 289.19,253.83 290,255 290.69,256.05 291.13,256.97 291.41,257.78 291.61,258.52 291.82,259.21 292.1,259.88 292.54,260.55 293.23,261.26 294.24,262.03 295.65,262.89 297.54,263.87 300,265 303.08,266.3 306.72,267.77 310.84,269.37 315.37,271.07 320.22,272.83 325.31,274.62 330.56,276.4 335.89,278.14 341.22,279.8 346.47,281.36 351.56,282.77 356.4,284 361.27,285.09 366.44,286.08 371.8,286.99 377.26,287.82 382.71,288.58 388.07,289.26 393.23,289.88 398.1,290.44 402.58,290.94 406.57,291.39 409.97,291.79 412.69,292.15"/>
</g>
<g stroke="#3a3a3a" stroke-width="0.45">
<path d="M252.09,74.36A177.3,177.3 0 0 1 274.57,76.36" fill="none" stroke="#555" stroke-width="0.7"/>
<path d="M256.44,71.12A180.7,180.7 0 0 1 259.43,71.29L259.21,74.68A177.3,177.3 0 0 0 256.28,74.51Z" fill="#E8604A"/>
<path d="M260.23,72.14A179.9,179.9 0 0 1 263.2,72.38L262.98,74.97A177.3,177.3 0 0 0 260.04,74.74Z" fill="#8E6CC8"/>
<path d="M264.36,69.07A183.3,183.3 0 0 1 267.38,69.37L266.73,75.34A177.3,177.3 0 0 0 263.81,75.04Z" fill="#33D1D1"/>
<path d="M288.99,79.2A177.3,177.3 0 0 1 310.56,85.86" fill="none" stroke="#555" stroke-width="0.7"/>
<path d="M296.13,68.63A189.3,189.3 0 0 1 299.16,69.46L295.89,81A177.3,177.3 0 0 0 293.06,80.23Z" fill="#E8604A"/>
<path d="M297.8,77.39A181.3,181.3 0 0 1 300.68,78.25L299.51,82.07A177.3,177.3 0 0 0 296.69,81.23Z" fill="#8E6CC8"/>
<path d="M300.9,80.41A179.3,179.3 0 0 1 303.74,81.31L303.11,83.21A177.3,177.3 0 0 0 300.31,82.32Z" fill="#33D1D1"/>
<path d="M339.18,99.78A177.3,177.3 0 0 1 357.73,112.65" fill="none" stroke="#555" stroke-width="0.7"/>
<path d="M341.09,97.43A180.3,180.3 0 0 1 343.64,99.01L342.04,101.55A177.3,177.3 0 0 0 339.54,100Z" fill="#8B1C3A"/>
<path d="M351.33,88.49A193.3,193.3 0 0 1 354.02,90.23L345.21,103.59A177.3,177.3 0 0 0 342.75,101.99Z" fill="#E8604A"/>
<path d="M348.68,99.89A182.3,182.3 0 0 1 351.18,101.59L348.34,105.7A177.3,177.3 0 0 0 345.91,104.05Z" fill="#8E6CC8"/>
<path d="M350.74,103.72A180.3,180.3 0 0 1 353.18,105.45L351.43,107.88A177.3,177.3 0 0 0 349.03,106.18Z" fill="#33D1D1"/>
<path d="M394.15,151.81A177.3,177.3 0 0 1 405.65,171.25" fill="none" stroke="#555" stroke-width="0.7"/>
<path d="M403.61,150.69A185.8,185.8 0 0 1 405.26,153.29L398.05,157.79A177.3,177.3 0 0 0 396.47,155.31Z" fill="#E8604A"/>
<path d="M402.74,155.87A182.3,182.3 0 0 1 404.31,158.46L400.01,161.01A177.3,177.3 0 0 0 398.49,158.5Z" fill="#8E6CC8"/>
<path d="M409.92,156.16A188.3,188.3 0 0 1 411.48,158.86L401.91,164.28A177.3,177.3 0 0 0 400.44,161.73Z" fill="#33D1D1"/>
<path d="M420.29,211.41A177.3,177.3 0 0 1 423.99,233.68" fill="none" stroke="#555" stroke-width="0.7"/>
<path d="M427.55,214.19A183.8,183.8 0 0 1 428.15,217.18L421.76,218.39A177.3,177.3 0 0 0 421.19,215.51Z" fill="#E8604A"/>
<path d="M426.83,218.3A182.3,182.3 0 0 1 427.36,221.28L422.43,222.11A177.3,177.3 0 0 0 421.92,219.21Z" fill="#8E6CC8"/>
<path d="M425.53,222.45A180.3,180.3 0 0 1 425.99,225.4L423.02,225.84A177.3,177.3 0 0 0 422.57,222.93Z" fill="#33D1D1"/>
<path d="M424.88,254.38A177.3,177.3 0 0 1 423.09,276.89" fill="none" stroke="#555" stroke-width="0.7"/>
<path d="M434.26,258.95A186.8,186.8 0 0 1 434.11,262.04L424.62,261.51A177.3,177.3 0 0 0 424.76,258.58Z" fill="#E8604A"/>
<path d="M429.56,262.65A182.3,182.3 0 0 1 429.36,265.67L424.37,265.28A177.3,177.3 0 0 0 424.57,262.35Z" fill="#8E6CC8"/>
<path d="M436.76,267.14A189.8,189.8 0 0 1 436.48,270.27L424.04,269.04A177.3,177.3 0 0 0 424.31,266.11Z" fill="#33D1D1"/>
<path d="M406.96,329.32A177.3,177.3 0 0 1 395.79,348.94" fill="none" stroke="#555" stroke-width="0.7"/>
<path d="M409.47,331.02A180.3,180.3 0 0 1 408.13,333.69L405.46,332.33A177.3,177.3 0 0 0 406.77,329.7Z" fill="#8B1C3A"/>
<path d="M416.62,339.04A190.3,190.3 0 0 1 415.15,341.83L403.7,335.67A177.3,177.3 0 0 0 405.07,333.07Z" fill="#E8604A"/>
<path d="M405.06,337.36A179.3,179.3 0 0 1 403.62,339.96L401.88,338.97A177.3,177.3 0 0 0 403.3,336.4Z" fill="#8E6CC8"/>
<path d="M377.27,372.52A177.3,177.3 0 0 1 360.85,388.01" fill="none" stroke="#555" stroke-width="0.7"/>
<path d="M373.11,379.65A179.3,179.3 0 0 1 370.97,381.71L369.59,380.26A177.3,177.3 0 0 0 371.71,378.22Z" fill="#8E6CC8"/>
<path d="M374.46,386.67A185.3,185.3 0 0 1 372.2,388.75L366.82,382.83A177.3,177.3 0 0 0 368.98,380.84Z" fill="#33D1D1"/>
<path d="M349.8,396.48A177.3,177.3 0 0 1 330.56,408.29" fill="none" stroke="#555" stroke-width="0.7"/>
<path d="M351.18,399.18A180.3,180.3 0 0 1 348.72,400.87L347.04,398.39A177.3,177.3 0 0 0 349.46,396.72Z" fill="#8B1C3A"/>
<path d="M353.59,409.65A190.3,190.3 0 0 1 350.95,411.39L343.89,400.47A177.3,177.3 0 0 0 346.35,398.86Z" fill="#E8604A"/>
<path d="M347.5,407.66A185.3,185.3 0 0 1 344.9,409.3L340.7,402.49A177.3,177.3 0 0 0 343.19,400.93Z" fill="#8E6CC8"/>
<path d="M344.16,409.75A185.3,185.3 0 0 1 341.52,411.33L337.47,404.44A177.3,177.3 0 0 0 339.99,402.93Z" fill="#33D1D1"/>
<path d="M338.25,407.45A180.3,180.3 0 0 1 335.66,408.93L334.19,406.32A177.3,177.3 0 0 0 336.75,404.86Z" fill="#2F88D8"/>
<path d="M255.95,428.7A177.3,177.3 0 0 1 233.38,428.33" fill="none" stroke="#555" stroke-width="0.7"/>
<path d="M247.99,429.9A178.3,178.3 0 0 1 245.03,429.88L245.05,428.88A177.3,177.3 0 0 0 247.99,428.9Z" fill="#8E6CC8"/>
<path d="M244.01,439.37A187.8,187.8 0 0 1 240.9,439.28L241.27,428.79A177.3,177.3 0 0 0 244.21,428.87Z" fill="#33D1D1"/>
<path d="M215.59,425.99A177.3,177.3 0 0 1 193.69,420.51" fill="none" stroke="#555" stroke-width="0.7"/>
<path d="M210.26,431.06A183.3,183.3 0 0 1 207.29,430.41L208.61,424.56A177.3,177.3 0 0 0 211.48,425.18Z" fill="#E8604A"/>
<path d="M206.56,429.73A182.8,182.8 0 0 1 203.61,429.03L204.93,423.69A177.3,177.3 0 0 0 207.79,424.37Z" fill="#8E6CC8"/>
<path d="M203.14,427.36A181.3,181.3 0 0 1 200.23,426.6L201.28,422.74A177.3,177.3 0 0 0 204.12,423.49Z" fill="#33D1D1"/>
<path d="M168.63,410.34A177.3,177.3 0 0 1 149.1,399.02" fill="none" stroke="#555" stroke-width="0.7"/>
<path d="M160.46,416.83A186.8,186.8 0 0 1 157.74,415.36L162.31,407.04A177.3,177.3 0 0 0 164.9,408.43Z" fill="#E8604A"/>
<path d="M156.53,407.79A180.8,180.8 0 0 1 153.95,406.26L155.77,403.26A177.3,177.3 0 0 0 158.29,404.77Z" fill="#33D1D1"/>
<path d="M138.44,391.31A177.3,177.3 0 0 1 121.58,376.31" fill="none" stroke="#555" stroke-width="0.7"/>
<path d="M129.46,395.65A186.3,186.3 0 0 1 127.09,393.67L132.91,386.81A177.3,177.3 0 0 0 135.17,388.69Z" fill="#E8604A"/>
<path d="M116.26,370.7A177.3,177.3 0 0 1 102.19,353.04" fill="none" stroke="#555" stroke-width="0.7"/>
<path d="M100.04,368.58A188.3,188.3 0 0 1 98.12,366.11L106.85,359.42A177.3,177.3 0 0 0 108.66,361.74Z" fill="#33D1D1"/>
<path d="M105.15,359.67A178.8,178.8 0 0 1 103.38,357.29L104.59,356.4A177.3,177.3 0 0 0 106.35,358.76Z" fill="#2F88D8"/>
<path d="M102.88,356.61A178.8,178.8 0 0 1 101.16,354.19L102.39,353.33A177.3,177.3 0 0 0 104.1,355.73Z" fill="#2B3A8C"/>
<path d="M93.75,339.71A177.3,177.3 0 0 1 83.8,319.45" fill="none" stroke="#555" stroke-width="0.7"/>
<path d="M84.67,339.86A185.3,185.3 0 0 1 83.23,337.15L90.33,333.45A177.3,177.3 0 0 0 91.7,336.05Z" fill="#E8604A"/>
<path d="M82.86,317.16A177.3,177.3 0 0 1 75.87,295.69" fill="none" stroke="#555" stroke-width="0.7"/>
<path d="M72.92,316.37A186.3,186.3 0 0 1 71.87,313.47L80.36,310.48A177.3,177.3 0 0 0 81.36,313.24Z" fill="#E8604A"/>
<path d="M73.98,287.55A177.3,177.3 0 0 1 70.82,265.2" fill="none" stroke="#555" stroke-width="0.7"/>
<path d="M62.36,285.41A188.3,188.3 0 0 1 61.83,282.34L72.68,280.54A177.3,177.3 0 0 0 73.18,283.44Z" fill="#E8604A"/>
<path d="M70.08,280.11A179.8,179.8 0 0 1 69.63,277.17L72.1,276.81A177.3,177.3 0 0 0 72.54,279.72Z" fill="#8E6CC8"/>
<path d="M64.06,277.08A185.3,185.3 0 0 1 63.66,274.04L71.6,273.07A177.3,177.3 0 0 0 71.98,275.98Z" fill="#33D1D1"/>
<path d="M72.34,224.78A177.3,177.3 0 0 1 77.17,202.73" fill="none" stroke="#555" stroke-width="0.7"/>
<path d="M70.43,224.06A179.3,179.3 0 0 1 70.91,221.13L72.88,221.47A177.3,177.3 0 0 0 72.4,224.37Z" fill="#8B1C3A"/>
<path d="M61.81,210.43A190.3,190.3 0 0 1 62.52,207.35L75.16,210.38A177.3,177.3 0 0 0 74.5,213.24Z" fill="#33D1D1"/>
<path d="M73.87,205.26A179.8,179.8 0 0 1 74.67,202.39L77.07,203.07A177.3,177.3 0 0 0 76.29,205.91Z" fill="#2B3A8C"/>
<path d="M84.76,181.47A177.3,177.3 0 0 1 94.99,161.35" fill="none" stroke="#555" stroke-width="0.7"/>
<path d="M78.28,173.88A186.3,186.3 0 0 1 79.6,171.09L87.71,174.98A177.3,177.3 0 0 0 86.46,177.64Z" fill="#E8604A"/>
<path d="M97.74,156.86A177.3,177.3 0 0 1 110.99,138.58" fill="none" stroke="#555" stroke-width="0.7"/>
<path d="M93.36,148.91A185.3,185.3 0 0 1 95.08,146.37L101.67,150.91A177.3,177.3 0 0 0 100.02,153.34Z" fill="#E8604A"/>
<path d="M113.59,135.51A177.3,177.3 0 0 1 129.42,119.43" fill="none" stroke="#555" stroke-width="0.7"/>
<path d="M111.6,133.23A180.3,180.3 0 0 1 113.58,130.99L115.81,133A177.3,177.3 0 0 0 113.86,135.2Z" fill="#8B1C3A"/>
<path d="M117.49,128.23A179.3,179.3 0 0 1 119.55,126.09L120.98,127.49A177.3,177.3 0 0 0 118.94,129.61Z" fill="#8E6CC8"/>
<path d="M113.74,119.16A188.3,188.3 0 0 1 115.96,116.96L123.65,124.83A177.3,177.3 0 0 0 121.56,126.9Z" fill="#33D1D1"/>
<path d="M121.47,121.37A181.3,181.3 0 0 1 123.64,119.3L126.38,122.22A177.3,177.3 0 0 0 124.25,124.24Z" fill="#2F88D8"/>
<path d="M122.91,117.25A183.3,183.3 0 0 1 125.15,115.2L129.16,119.66A177.3,177.3 0 0 0 126.99,121.65Z" fill="#2B3A8C"/>
<path d="M157.88,98.68A177.3,177.3 0 0 1 168.21,93.07" fill="none" stroke="#555" stroke-width="0.7"/>
<path d="M156.98,96.31A179.8,179.8 0 0 1 159.57,94.82L160.79,97A177.3,177.3 0 0 0 158.24,98.47Z" fill="#8B1C3A"/>
<path d="M162.51,90.38A182.3,182.3 0 0 1 165.19,88.99L167.45,93.45A177.3,177.3 0 0 0 164.84,94.8Z" fill="#33D1D1"/>
<path d="M175.49,89.63A177.3,177.3 0 0 1 196.65,81.78" fill="none" stroke="#555" stroke-width="0.7"/>
<path d="M175.49,78.74A187.3,187.3 0 0 1 178.36,77.57L182.06,86.86A177.3,177.3 0 0 0 179.34,87.97Z" fill="#E8604A"/>
<path d="M180.64,80.97A183.3,183.3 0 0 1 183.48,79.88L185.58,85.5A177.3,177.3 0 0 0 182.84,86.55Z" fill="#8E6CC8"/>
<path d="M183.6,77.7A185.3,185.3 0 0 1 186.49,76.67L189.13,84.22A177.3,177.3 0 0 0 186.36,85.21Z" fill="#33D1D1"/>
<path d="M238.22,70.54A181.3,181.3 0 0 1 241.23,70.41L241.37,74.41A177.3,177.3 0 0 0 238.43,74.54Z" fill="#8B1C3A"/>
</g>
<g stroke-width="0.5">
<rect x="526.5" y="32.2" width="17.8" height="6.3" fill="#8B1C3A" stroke="#8B1C3A"/>
<rect x="526.5" y="44.45" width="17.8" height="6.3" fill="#E8604A" stroke="#E8604A"/>
<rect x="526.5" y="56.7" width="17.8" height="6.3" fill="#8E6CC8" stroke="#8E6CC8"/>
<rect x="526.5" y="68.95" width="17.8" height="6.3" fill="#33D1D1" stroke="#33D1D1"/>
<rect x="526.5" y="81.2" width="17.8" height="6.3" fill="#2F88D8" stroke="#2F88D8"/>
<rect x="526.5" y="93.45" width="17.8" height="6.3" fill="#2B3A8C" stroke="#2B3A8C"/>
</g>
</svg></body></html>
